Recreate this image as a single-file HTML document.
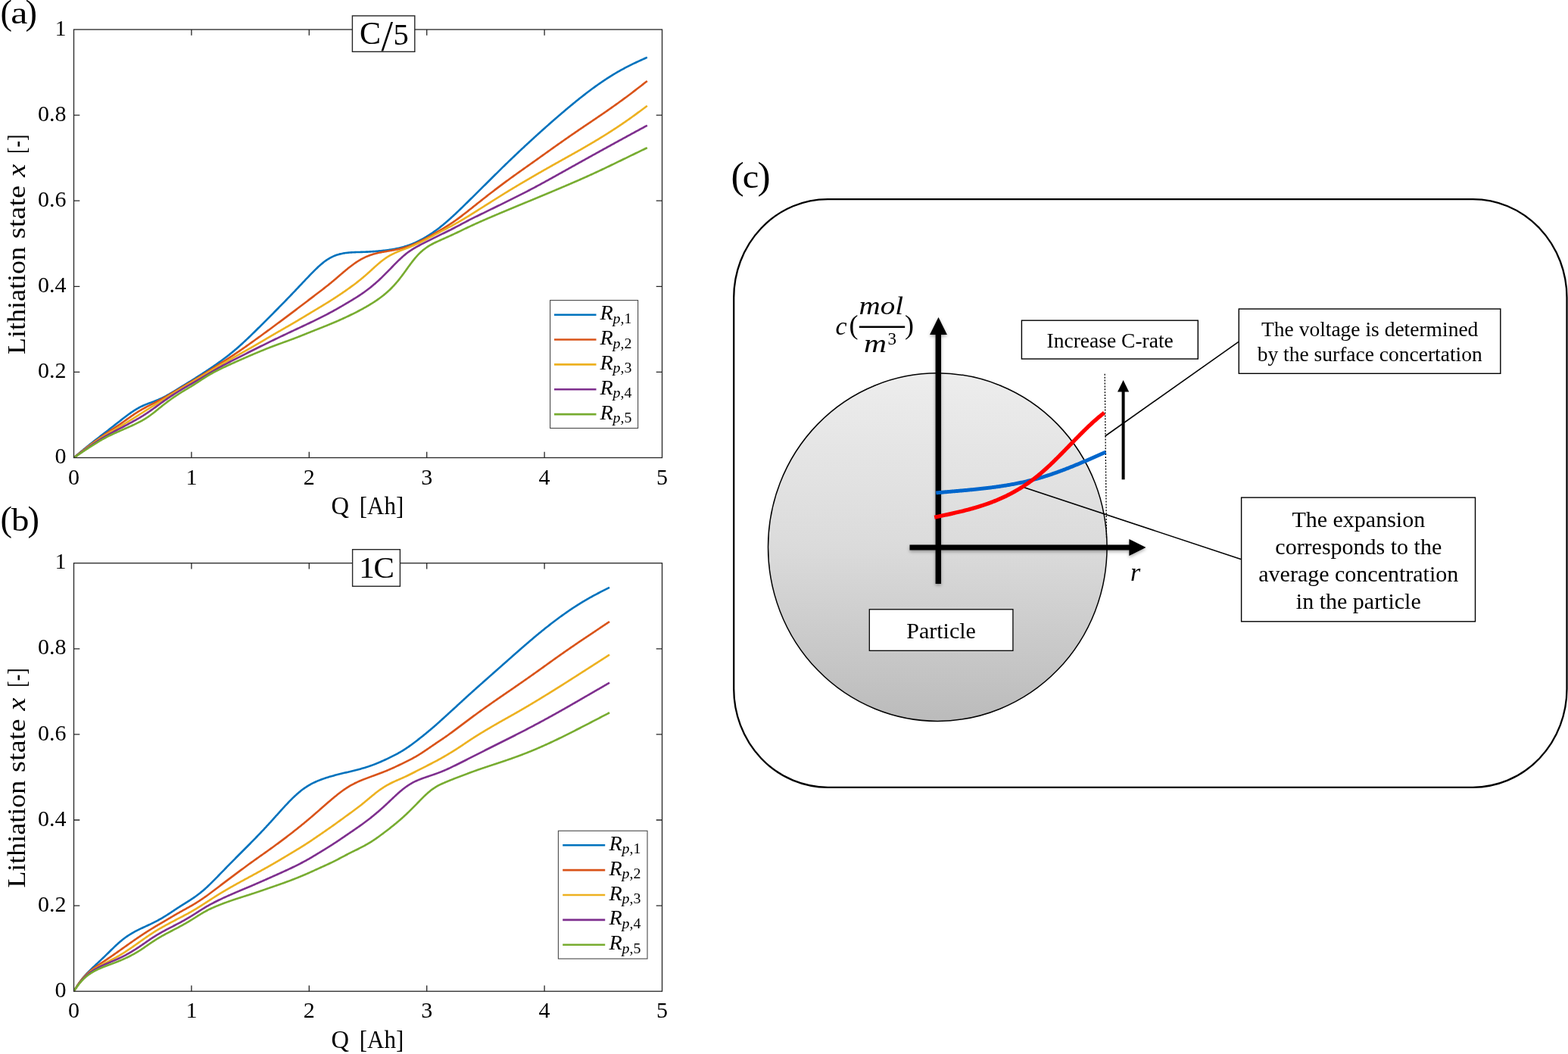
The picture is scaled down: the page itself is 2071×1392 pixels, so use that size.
<!DOCTYPE html><html><head><meta charset="utf-8"><title>Figure</title><style>html,body{margin:0;padding:0;background:#fff}svg{display:block}</style></head><body>
<svg width="2071" height="1392" viewBox="0 0 2071 1392">
<defs><linearGradient id="pg" x1="0" y1="0" x2="0" y2="1"><stop offset="0" stop-color="#ededed"/><stop offset="0.5" stop-color="#dbdbdb"/><stop offset="1" stop-color="#bbbbbb"/></linearGradient><filter id="sh" x="-50%" y="-50%" width="200%" height="200%"><feDropShadow dx="0" dy="2" stdDeviation="2.2" flood-color="#000" flood-opacity="0.35"/></filter></defs>
<rect width="2071" height="1392" fill="#fff"/>
<g>
<clipPath id="clip0"><rect x="97.5" y="39.0" width="777.0" height="565.5"/></clipPath>
<g clip-path="url(#clip0)" fill="none" stroke-width="2.6" stroke-linejoin="round" stroke-linecap="butt">
<path d="M97.5,604.50 L98.5,603.66 L99.5,602.81 L100.5,601.97 L101.5,601.13 L102.5,600.29 L103.5,599.45 L104.5,598.61 L105.5,597.77 L106.5,596.94 L107.5,596.10 L108.5,595.27 L109.5,594.44 L110.5,593.61 L111.5,592.79 L112.5,591.96 L113.5,591.14 L114.5,590.32 L115.5,589.51 L116.5,588.70 L117.5,587.89 L118.5,587.08 L119.5,586.28 L120.5,585.48 L121.5,584.69 L122.5,583.90 L123.5,583.11 L124.5,582.33 L125.5,581.55 L126.5,580.77 L127.5,580.00 L128.5,579.23 L129.5,578.46 L130.5,577.69 L131.5,576.92 L132.5,576.15 L133.5,575.38 L134.5,574.62 L135.5,573.85 L136.5,573.08 L137.5,572.31 L138.5,571.54 L139.5,570.77 L140.5,570.00 L141.5,569.22 L142.5,568.44 L143.5,567.66 L144.5,566.88 L145.5,566.10 L146.5,565.32 L147.5,564.53 L148.5,563.75 L149.5,562.96 L150.5,562.18 L151.5,561.39 L152.5,560.61 L153.5,559.82 L154.5,559.04 L155.5,558.25 L156.5,557.47 L157.5,556.69 L158.5,555.91 L159.5,555.13 L160.5,554.35 L161.5,553.58 L162.5,552.81 L163.5,552.04 L164.5,551.27 L165.5,550.51 L166.5,549.76 L167.5,549.01 L168.5,548.27 L169.5,547.53 L170.5,546.80 L171.5,546.09 L172.5,545.38 L173.5,544.68 L174.5,544.00 L175.5,543.32 L176.5,542.67 L177.5,542.02 L178.5,541.40 L179.5,540.79 L180.5,540.19 L181.5,539.61 L182.5,539.05 L183.5,538.50 L184.5,537.97 L185.5,537.45 L186.5,536.95 L187.5,536.47 L188.5,536.00 L189.5,535.55 L190.5,535.11 L191.5,534.68 L192.5,534.27 L193.5,533.87 L194.5,533.47 L195.5,533.09 L196.5,532.71 L197.5,532.34 L198.5,531.97 L199.5,531.60 L200.5,531.23 L201.5,530.86 L202.5,530.48 L203.5,530.10 L204.5,529.71 L205.5,529.32 L206.5,528.91 L207.5,528.50 L208.5,528.08 L209.5,527.65 L210.5,527.21 L211.5,526.77 L212.5,526.31 L213.5,525.84 L214.5,525.36 L215.5,524.87 L216.5,524.37 L217.5,523.86 L218.5,523.33 L219.5,522.80 L220.5,522.25 L221.5,521.70 L222.5,521.14 L223.5,520.57 L224.5,519.99 L225.5,519.41 L226.5,518.81 L227.5,518.22 L228.5,517.62 L229.5,517.01 L230.5,516.40 L231.5,515.79 L232.5,515.17 L233.5,514.55 L234.5,513.93 L235.5,513.31 L236.5,512.69 L237.5,512.07 L238.5,511.45 L239.5,510.83 L240.5,510.22 L241.5,509.60 L242.5,508.99 L243.5,508.38 L244.5,507.77 L245.5,507.16 L246.5,506.55 L247.5,505.94 L248.5,505.33 L249.5,504.71 L250.5,504.10 L251.5,503.48 L252.5,502.86 L253.5,502.24 L254.5,501.62 L255.5,500.99 L256.5,500.36 L257.5,499.73 L258.5,499.10 L259.5,498.47 L260.5,497.83 L261.5,497.20 L262.5,496.56 L263.5,495.92 L264.5,495.28 L265.5,494.64 L266.5,493.99 L267.5,493.34 L268.5,492.70 L269.5,492.05 L270.5,491.39 L271.5,490.74 L272.5,490.08 L273.5,489.42 L274.5,488.75 L275.5,488.09 L276.5,487.42 L277.5,486.75 L278.5,486.07 L279.5,485.40 L280.5,484.71 L281.5,484.03 L282.5,483.34 L283.5,482.65 L284.5,481.95 L285.5,481.25 L286.5,480.55 L287.5,479.84 L288.5,479.13 L289.5,478.42 L290.5,477.70 L291.5,476.97 L292.5,476.25 L293.5,475.51 L294.5,474.77 L295.5,474.03 L296.5,473.28 L297.5,472.53 L298.5,471.77 L299.5,471.00 L300.5,470.23 L301.5,469.45 L302.5,468.66 L303.5,467.87 L304.5,467.07 L305.5,466.27 L306.5,465.45 L307.5,464.63 L308.5,463.80 L309.5,462.96 L310.5,462.12 L311.5,461.27 L312.5,460.40 L313.5,459.54 L314.5,458.66 L315.5,457.78 L316.5,456.89 L317.5,455.99 L318.5,455.08 L319.5,454.17 L320.5,453.26 L321.5,452.34 L322.5,451.41 L323.5,450.48 L324.5,449.54 L325.5,448.60 L326.5,447.65 L327.5,446.70 L328.5,445.74 L329.5,444.78 L330.5,443.82 L331.5,442.85 L332.5,441.88 L333.5,440.91 L334.5,439.93 L335.5,438.95 L336.5,437.97 L337.5,436.99 L338.5,436.00 L339.5,435.02 L340.5,434.03 L341.5,433.04 L342.5,432.05 L343.5,431.06 L344.5,430.06 L345.5,429.07 L346.5,428.08 L347.5,427.08 L348.5,426.08 L349.5,425.08 L350.5,424.09 L351.5,423.09 L352.5,422.08 L353.5,421.08 L354.5,420.08 L355.5,419.08 L356.5,418.07 L357.5,417.07 L358.5,416.06 L359.5,415.05 L360.5,414.05 L361.5,413.04 L362.5,412.03 L363.5,411.02 L364.5,410.01 L365.5,409.00 L366.5,407.98 L367.5,406.97 L368.5,405.96 L369.5,404.94 L370.5,403.92 L371.5,402.90 L372.5,401.88 L373.5,400.86 L374.5,399.84 L375.5,398.82 L376.5,397.79 L377.5,396.76 L378.5,395.73 L379.5,394.70 L380.5,393.67 L381.5,392.64 L382.5,391.60 L383.5,390.56 L384.5,389.52 L385.5,388.48 L386.5,387.44 L387.5,386.39 L388.5,385.34 L389.5,384.29 L390.5,383.24 L391.5,382.19 L392.5,381.13 L393.5,380.07 L394.5,379.01 L395.5,377.95 L396.5,376.89 L397.5,375.83 L398.5,374.77 L399.5,373.71 L400.5,372.65 L401.5,371.59 L402.5,370.54 L403.5,369.48 L404.5,368.43 L405.5,367.38 L406.5,366.33 L407.5,365.29 L408.5,364.25 L409.5,363.21 L410.5,362.18 L411.5,361.15 L412.5,360.13 L413.5,359.12 L414.5,358.11 L415.5,357.11 L416.5,356.13 L417.5,355.15 L418.5,354.19 L419.5,353.25 L420.5,352.32 L421.5,351.40 L422.5,350.51 L423.5,349.63 L424.5,348.77 L425.5,347.94 L426.5,347.12 L427.5,346.34 L428.5,345.57 L429.5,344.83 L430.5,344.12 L431.5,343.43 L432.5,342.77 L433.5,342.13 L434.5,341.52 L435.5,340.94 L436.5,340.38 L437.5,339.85 L438.5,339.34 L439.5,338.86 L440.5,338.41 L441.5,337.98 L442.5,337.58 L443.5,337.20 L444.5,336.84 L445.5,336.51 L446.5,336.20 L447.5,335.90 L448.5,335.63 L449.5,335.38 L450.5,335.15 L451.5,334.93 L452.5,334.73 L453.5,334.55 L454.5,334.38 L455.5,334.22 L456.5,334.08 L457.5,333.95 L458.5,333.84 L459.5,333.73 L460.5,333.63 L461.5,333.54 L462.5,333.47 L463.5,333.39 L464.5,333.33 L465.5,333.27 L466.5,333.22 L467.5,333.18 L468.5,333.14 L469.5,333.10 L470.5,333.07 L471.5,333.04 L472.5,333.01 L473.5,332.98 L474.5,332.96 L475.5,332.93 L476.5,332.90 L477.5,332.88 L478.5,332.85 L479.5,332.82 L480.5,332.79 L481.5,332.75 L482.5,332.71 L483.5,332.67 L484.5,332.62 L485.5,332.58 L486.5,332.52 L487.5,332.47 L488.5,332.41 L489.5,332.35 L490.5,332.29 L491.5,332.22 L492.5,332.15 L493.5,332.08 L494.5,332.01 L495.5,331.93 L496.5,331.85 L497.5,331.77 L498.5,331.68 L499.5,331.60 L500.5,331.51 L501.5,331.41 L502.5,331.32 L503.5,331.22 L504.5,331.12 L505.5,331.01 L506.5,330.91 L507.5,330.79 L508.5,330.68 L509.5,330.56 L510.5,330.43 L511.5,330.30 L512.5,330.17 L513.5,330.03 L514.5,329.89 L515.5,329.74 L516.5,329.58 L517.5,329.42 L518.5,329.26 L519.5,329.08 L520.5,328.91 L521.5,328.72 L522.5,328.53 L523.5,328.33 L524.5,328.13 L525.5,327.91 L526.5,327.69 L527.5,327.46 L528.5,327.23 L529.5,326.98 L530.5,326.73 L531.5,326.46 L532.5,326.19 L533.5,325.91 L534.5,325.61 L535.5,325.31 L536.5,325.00 L537.5,324.68 L538.5,324.34 L539.5,324.00 L540.5,323.64 L541.5,323.27 L542.5,322.89 L543.5,322.50 L544.5,322.10 L545.5,321.68 L546.5,321.26 L547.5,320.82 L548.5,320.38 L549.5,319.92 L550.5,319.46 L551.5,318.98 L552.5,318.49 L553.5,318.00 L554.5,317.49 L555.5,316.97 L556.5,316.45 L557.5,315.91 L558.5,315.36 L559.5,314.80 L560.5,314.23 L561.5,313.65 L562.5,313.06 L563.5,312.46 L564.5,311.84 L565.5,311.22 L566.5,310.59 L567.5,309.94 L568.5,309.29 L569.5,308.63 L570.5,307.95 L571.5,307.27 L572.5,306.57 L573.5,305.87 L574.5,305.16 L575.5,304.43 L576.5,303.70 L577.5,302.95 L578.5,302.20 L579.5,301.43 L580.5,300.66 L581.5,299.88 L582.5,299.08 L583.5,298.28 L584.5,297.46 L585.5,296.64 L586.5,295.81 L587.5,294.97 L588.5,294.12 L589.5,293.26 L590.5,292.39 L591.5,291.52 L592.5,290.64 L593.5,289.75 L594.5,288.86 L595.5,287.96 L596.5,287.05 L597.5,286.14 L598.5,285.22 L599.5,284.29 L600.5,283.36 L601.5,282.43 L602.5,281.49 L603.5,280.54 L604.5,279.59 L605.5,278.64 L606.5,277.68 L607.5,276.72 L608.5,275.75 L609.5,274.79 L610.5,273.82 L611.5,272.84 L612.5,271.87 L613.5,270.89 L614.5,269.91 L615.5,268.93 L616.5,267.95 L617.5,266.97 L618.5,265.98 L619.5,265.00 L620.5,264.01 L621.5,263.03 L622.5,262.04 L623.5,261.06 L624.5,260.07 L625.5,259.08 L626.5,258.09 L627.5,257.11 L628.5,256.12 L629.5,255.13 L630.5,254.14 L631.5,253.15 L632.5,252.16 L633.5,251.16 L634.5,250.17 L635.5,249.18 L636.5,248.19 L637.5,247.19 L638.5,246.20 L639.5,245.20 L640.5,244.21 L641.5,243.21 L642.5,242.22 L643.5,241.22 L644.5,240.23 L645.5,239.23 L646.5,238.23 L647.5,237.24 L648.5,236.24 L649.5,235.25 L650.5,234.26 L651.5,233.26 L652.5,232.27 L653.5,231.28 L654.5,230.29 L655.5,229.30 L656.5,228.31 L657.5,227.32 L658.5,226.33 L659.5,225.35 L660.5,224.36 L661.5,223.38 L662.5,222.40 L663.5,221.42 L664.5,220.44 L665.5,219.47 L666.5,218.49 L667.5,217.52 L668.5,216.55 L669.5,215.58 L670.5,214.61 L671.5,213.65 L672.5,212.68 L673.5,211.72 L674.5,210.76 L675.5,209.80 L676.5,208.84 L677.5,207.89 L678.5,206.94 L679.5,205.98 L680.5,205.03 L681.5,204.08 L682.5,203.14 L683.5,202.19 L684.5,201.25 L685.5,200.30 L686.5,199.36 L687.5,198.42 L688.5,197.49 L689.5,196.55 L690.5,195.62 L691.5,194.68 L692.5,193.75 L693.5,192.82 L694.5,191.89 L695.5,190.97 L696.5,190.04 L697.5,189.12 L698.5,188.20 L699.5,187.28 L700.5,186.36 L701.5,185.44 L702.5,184.52 L703.5,183.61 L704.5,182.69 L705.5,181.78 L706.5,180.87 L707.5,179.96 L708.5,179.05 L709.5,178.15 L710.5,177.24 L711.5,176.34 L712.5,175.44 L713.5,174.54 L714.5,173.64 L715.5,172.74 L716.5,171.84 L717.5,170.95 L718.5,170.05 L719.5,169.16 L720.5,168.27 L721.5,167.38 L722.5,166.50 L723.5,165.61 L724.5,164.73 L725.5,163.85 L726.5,162.96 L727.5,162.09 L728.5,161.21 L729.5,160.33 L730.5,159.46 L731.5,158.59 L732.5,157.71 L733.5,156.85 L734.5,155.98 L735.5,155.11 L736.5,154.25 L737.5,153.38 L738.5,152.52 L739.5,151.66 L740.5,150.81 L741.5,149.95 L742.5,149.10 L743.5,148.25 L744.5,147.40 L745.5,146.55 L746.5,145.70 L747.5,144.86 L748.5,144.02 L749.5,143.18 L750.5,142.34 L751.5,141.50 L752.5,140.67 L753.5,139.84 L754.5,139.01 L755.5,138.19 L756.5,137.37 L757.5,136.55 L758.5,135.73 L759.5,134.91 L760.5,134.10 L761.5,133.29 L762.5,132.49 L763.5,131.68 L764.5,130.88 L765.5,130.09 L766.5,129.29 L767.5,128.50 L768.5,127.71 L769.5,126.93 L770.5,126.15 L771.5,125.37 L772.5,124.60 L773.5,123.83 L774.5,123.06 L775.5,122.30 L776.5,121.54 L777.5,120.78 L778.5,120.03 L779.5,119.28 L780.5,118.53 L781.5,117.79 L782.5,117.05 L783.5,116.32 L784.5,115.59 L785.5,114.87 L786.5,114.14 L787.5,113.43 L788.5,112.71 L789.5,112.01 L790.5,111.30 L791.5,110.60 L792.5,109.90 L793.5,109.21 L794.5,108.53 L795.5,107.84 L796.5,107.17 L797.5,106.49 L798.5,105.82 L799.5,105.16 L800.5,104.50 L801.5,103.85 L802.5,103.20 L803.5,102.55 L804.5,101.91 L805.5,101.28 L806.5,100.65 L807.5,100.03 L808.5,99.41 L809.5,98.80 L810.5,98.19 L811.5,97.59 L812.5,96.99 L813.5,96.40 L814.5,95.81 L815.5,95.23 L816.5,94.66 L817.5,94.09 L818.5,93.52 L819.5,92.96 L820.5,92.41 L821.5,91.86 L822.5,91.32 L823.5,90.78 L824.5,90.24 L825.5,89.71 L826.5,89.19 L827.5,88.67 L828.5,88.15 L829.5,87.64 L830.5,87.13 L831.5,86.63 L832.5,86.13 L833.5,85.63 L834.5,85.14 L835.5,84.65 L836.5,84.17 L837.5,83.69 L838.5,83.21 L839.5,82.74 L840.5,82.27 L841.5,81.80 L842.5,81.34 L843.5,80.87 L844.5,80.42 L845.5,79.96 L846.5,79.50 L847.5,79.05 L848.5,78.60 L849.5,78.14 L850.5,77.69 L851.5,77.25 L852.5,76.80 L853.5,76.35 L854.5,75.90 L854.8,75.77" stroke="#0072BD"/>
<path d="M97.5,604.50 L98.5,603.70 L99.5,602.91 L100.5,602.11 L101.5,601.32 L102.5,600.53 L103.5,599.74 L104.5,598.95 L105.5,598.16 L106.5,597.37 L107.5,596.58 L108.5,595.79 L109.5,595.01 L110.5,594.23 L111.5,593.45 L112.5,592.67 L113.5,591.90 L114.5,591.13 L115.5,590.36 L116.5,589.59 L117.5,588.83 L118.5,588.07 L119.5,587.32 L120.5,586.56 L121.5,585.82 L122.5,585.07 L123.5,584.33 L124.5,583.59 L125.5,582.86 L126.5,582.13 L127.5,581.41 L128.5,580.69 L129.5,579.97 L130.5,579.26 L131.5,578.55 L132.5,577.84 L133.5,577.14 L134.5,576.44 L135.5,575.75 L136.5,575.06 L137.5,574.37 L138.5,573.69 L139.5,573.01 L140.5,572.33 L141.5,571.66 L142.5,570.99 L143.5,570.32 L144.5,569.65 L145.5,568.99 L146.5,568.32 L147.5,567.66 L148.5,567.00 L149.5,566.33 L150.5,565.67 L151.5,565.00 L152.5,564.34 L153.5,563.67 L154.5,562.99 L155.5,562.32 L156.5,561.64 L157.5,560.96 L158.5,560.27 L159.5,559.58 L160.5,558.88 L161.5,558.17 L162.5,557.46 L163.5,556.75 L164.5,556.04 L165.5,555.32 L166.5,554.61 L167.5,553.89 L168.5,553.18 L169.5,552.47 L170.5,551.76 L171.5,551.06 L172.5,550.36 L173.5,549.67 L174.5,548.98 L175.5,548.30 L176.5,547.62 L177.5,546.95 L178.5,546.29 L179.5,545.63 L180.5,544.99 L181.5,544.35 L182.5,543.72 L183.5,543.10 L184.5,542.49 L185.5,541.89 L186.5,541.30 L187.5,540.72 L188.5,540.16 L189.5,539.60 L190.5,539.05 L191.5,538.51 L192.5,537.99 L193.5,537.46 L194.5,536.95 L195.5,536.44 L196.5,535.93 L197.5,535.43 L198.5,534.92 L199.5,534.42 L200.5,533.91 L201.5,533.40 L202.5,532.89 L203.5,532.38 L204.5,531.86 L205.5,531.34 L206.5,530.82 L207.5,530.29 L208.5,529.76 L209.5,529.23 L210.5,528.69 L211.5,528.14 L212.5,527.60 L213.5,527.05 L214.5,526.49 L215.5,525.93 L216.5,525.37 L217.5,524.80 L218.5,524.24 L219.5,523.66 L220.5,523.09 L221.5,522.51 L222.5,521.93 L223.5,521.35 L224.5,520.77 L225.5,520.18 L226.5,519.60 L227.5,519.01 L228.5,518.42 L229.5,517.83 L230.5,517.23 L231.5,516.64 L232.5,516.05 L233.5,515.45 L234.5,514.86 L235.5,514.26 L236.5,513.67 L237.5,513.07 L238.5,512.48 L239.5,511.88 L240.5,511.29 L241.5,510.70 L242.5,510.11 L243.5,509.51 L244.5,508.92 L245.5,508.33 L246.5,507.74 L247.5,507.15 L248.5,506.55 L249.5,505.96 L250.5,505.37 L251.5,504.78 L252.5,504.18 L253.5,503.58 L254.5,502.99 L255.5,502.39 L256.5,501.79 L257.5,501.19 L258.5,500.59 L259.5,499.98 L260.5,499.37 L261.5,498.76 L262.5,498.15 L263.5,497.54 L264.5,496.93 L265.5,496.31 L266.5,495.69 L267.5,495.07 L268.5,494.45 L269.5,493.83 L270.5,493.20 L271.5,492.58 L272.5,491.95 L273.5,491.32 L274.5,490.69 L275.5,490.06 L276.5,489.43 L277.5,488.79 L278.5,488.16 L279.5,487.52 L280.5,486.89 L281.5,486.25 L282.5,485.61 L283.5,484.97 L284.5,484.34 L285.5,483.70 L286.5,483.06 L287.5,482.42 L288.5,481.78 L289.5,481.14 L290.5,480.49 L291.5,479.85 L292.5,479.21 L293.5,478.57 L294.5,477.93 L295.5,477.28 L296.5,476.64 L297.5,475.99 L298.5,475.35 L299.5,474.70 L300.5,474.05 L301.5,473.40 L302.5,472.74 L303.5,472.09 L304.5,471.43 L305.5,470.78 L306.5,470.12 L307.5,469.45 L308.5,468.79 L309.5,468.12 L310.5,467.45 L311.5,466.78 L312.5,466.10 L313.5,465.42 L314.5,464.74 L315.5,464.06 L316.5,463.37 L317.5,462.68 L318.5,461.99 L319.5,461.30 L320.5,460.61 L321.5,459.91 L322.5,459.21 L323.5,458.51 L324.5,457.81 L325.5,457.10 L326.5,456.40 L327.5,455.69 L328.5,454.98 L329.5,454.27 L330.5,453.56 L331.5,452.84 L332.5,452.13 L333.5,451.41 L334.5,450.70 L335.5,449.98 L336.5,449.26 L337.5,448.54 L338.5,447.81 L339.5,447.09 L340.5,446.37 L341.5,445.64 L342.5,444.92 L343.5,444.19 L344.5,443.47 L345.5,442.74 L346.5,442.01 L347.5,441.28 L348.5,440.55 L349.5,439.82 L350.5,439.09 L351.5,438.36 L352.5,437.63 L353.5,436.89 L354.5,436.16 L355.5,435.43 L356.5,434.69 L357.5,433.96 L358.5,433.22 L359.5,432.49 L360.5,431.75 L361.5,431.01 L362.5,430.28 L363.5,429.54 L364.5,428.80 L365.5,428.06 L366.5,427.32 L367.5,426.58 L368.5,425.84 L369.5,425.10 L370.5,424.36 L371.5,423.61 L372.5,422.87 L373.5,422.13 L374.5,421.38 L375.5,420.64 L376.5,419.89 L377.5,419.14 L378.5,418.39 L379.5,417.65 L380.5,416.90 L381.5,416.15 L382.5,415.40 L383.5,414.64 L384.5,413.89 L385.5,413.14 L386.5,412.38 L387.5,411.63 L388.5,410.87 L389.5,410.11 L390.5,409.35 L391.5,408.59 L392.5,407.83 L393.5,407.07 L394.5,406.31 L395.5,405.55 L396.5,404.79 L397.5,404.02 L398.5,403.26 L399.5,402.50 L400.5,401.73 L401.5,400.97 L402.5,400.21 L403.5,399.44 L404.5,398.68 L405.5,397.92 L406.5,397.16 L407.5,396.40 L408.5,395.64 L409.5,394.88 L410.5,394.12 L411.5,393.36 L412.5,392.60 L413.5,391.84 L414.5,391.09 L415.5,390.33 L416.5,389.57 L417.5,388.81 L418.5,388.05 L419.5,387.29 L420.5,386.53 L421.5,385.77 L422.5,385.00 L423.5,384.24 L424.5,383.47 L425.5,382.70 L426.5,381.92 L427.5,381.15 L428.5,380.37 L429.5,379.58 L430.5,378.80 L431.5,378.00 L432.5,377.21 L433.5,376.41 L434.5,375.61 L435.5,374.80 L436.5,373.98 L437.5,373.17 L438.5,372.34 L439.5,371.51 L440.5,370.67 L441.5,369.83 L442.5,368.99 L443.5,368.14 L444.5,367.28 L445.5,366.43 L446.5,365.57 L447.5,364.71 L448.5,363.85 L449.5,362.99 L450.5,362.13 L451.5,361.28 L452.5,360.42 L453.5,359.57 L454.5,358.73 L455.5,357.89 L456.5,357.06 L457.5,356.23 L458.5,355.41 L459.5,354.60 L460.5,353.80 L461.5,353.01 L462.5,352.23 L463.5,351.46 L464.5,350.70 L465.5,349.95 L466.5,349.22 L467.5,348.50 L468.5,347.79 L469.5,347.10 L470.5,346.43 L471.5,345.77 L472.5,345.12 L473.5,344.50 L474.5,343.89 L475.5,343.29 L476.5,342.72 L477.5,342.16 L478.5,341.62 L479.5,341.09 L480.5,340.59 L481.5,340.10 L482.5,339.63 L483.5,339.18 L484.5,338.75 L485.5,338.33 L486.5,337.93 L487.5,337.55 L488.5,337.18 L489.5,336.83 L490.5,336.49 L491.5,336.17 L492.5,335.86 L493.5,335.56 L494.5,335.28 L495.5,335.01 L496.5,334.75 L497.5,334.50 L498.5,334.26 L499.5,334.03 L500.5,333.81 L501.5,333.60 L502.5,333.39 L503.5,333.19 L504.5,333.00 L505.5,332.81 L506.5,332.63 L507.5,332.45 L508.5,332.27 L509.5,332.10 L510.5,331.93 L511.5,331.76 L512.5,331.59 L513.5,331.42 L514.5,331.25 L515.5,331.08 L516.5,330.91 L517.5,330.73 L518.5,330.55 L519.5,330.37 L520.5,330.19 L521.5,330.00 L522.5,329.80 L523.5,329.60 L524.5,329.39 L525.5,329.18 L526.5,328.96 L527.5,328.73 L528.5,328.50 L529.5,328.26 L530.5,328.01 L531.5,327.75 L532.5,327.48 L533.5,327.20 L534.5,326.92 L535.5,326.62 L536.5,326.32 L537.5,326.00 L538.5,325.67 L539.5,325.33 L540.5,324.98 L541.5,324.62 L542.5,324.25 L543.5,323.86 L544.5,323.47 L545.5,323.06 L546.5,322.65 L547.5,322.22 L548.5,321.78 L549.5,321.34 L550.5,320.89 L551.5,320.42 L552.5,319.95 L553.5,319.48 L554.5,318.99 L555.5,318.50 L556.5,318.00 L557.5,317.49 L558.5,316.98 L559.5,316.46 L560.5,315.94 L561.5,315.41 L562.5,314.87 L563.5,314.34 L564.5,313.79 L565.5,313.25 L566.5,312.69 L567.5,312.14 L568.5,311.58 L569.5,311.02 L570.5,310.45 L571.5,309.88 L572.5,309.31 L573.5,308.73 L574.5,308.15 L575.5,307.57 L576.5,306.99 L577.5,306.40 L578.5,305.82 L579.5,305.23 L580.5,304.64 L581.5,304.04 L582.5,303.45 L583.5,302.85 L584.5,302.25 L585.5,301.64 L586.5,301.04 L587.5,300.43 L588.5,299.81 L589.5,299.19 L590.5,298.56 L591.5,297.93 L592.5,297.30 L593.5,296.65 L594.5,296.00 L595.5,295.35 L596.5,294.68 L597.5,294.01 L598.5,293.34 L599.5,292.65 L600.5,291.95 L601.5,291.25 L602.5,290.54 L603.5,289.82 L604.5,289.10 L605.5,288.36 L606.5,287.62 L607.5,286.88 L608.5,286.13 L609.5,285.37 L610.5,284.61 L611.5,283.84 L612.5,283.07 L613.5,282.29 L614.5,281.52 L615.5,280.74 L616.5,279.95 L617.5,279.16 L618.5,278.38 L619.5,277.59 L620.5,276.79 L621.5,276.00 L622.5,275.21 L623.5,274.41 L624.5,273.62 L625.5,272.82 L626.5,272.02 L627.5,271.23 L628.5,270.43 L629.5,269.64 L630.5,268.84 L631.5,268.05 L632.5,267.26 L633.5,266.46 L634.5,265.67 L635.5,264.88 L636.5,264.10 L637.5,263.31 L638.5,262.52 L639.5,261.74 L640.5,260.95 L641.5,260.17 L642.5,259.39 L643.5,258.61 L644.5,257.83 L645.5,257.06 L646.5,256.28 L647.5,255.51 L648.5,254.74 L649.5,253.97 L650.5,253.20 L651.5,252.43 L652.5,251.66 L653.5,250.90 L654.5,250.14 L655.5,249.37 L656.5,248.61 L657.5,247.86 L658.5,247.10 L659.5,246.35 L660.5,245.60 L661.5,244.85 L662.5,244.10 L663.5,243.35 L664.5,242.61 L665.5,241.87 L666.5,241.13 L667.5,240.39 L668.5,239.65 L669.5,238.92 L670.5,238.19 L671.5,237.46 L672.5,236.73 L673.5,236.00 L674.5,235.28 L675.5,234.55 L676.5,233.83 L677.5,233.11 L678.5,232.39 L679.5,231.67 L680.5,230.95 L681.5,230.24 L682.5,229.52 L683.5,228.81 L684.5,228.09 L685.5,227.38 L686.5,226.67 L687.5,225.96 L688.5,225.25 L689.5,224.54 L690.5,223.83 L691.5,223.12 L692.5,222.41 L693.5,221.70 L694.5,220.99 L695.5,220.29 L696.5,219.58 L697.5,218.87 L698.5,218.16 L699.5,217.45 L700.5,216.75 L701.5,216.04 L702.5,215.33 L703.5,214.62 L704.5,213.91 L705.5,213.20 L706.5,212.49 L707.5,211.78 L708.5,211.07 L709.5,210.36 L710.5,209.65 L711.5,208.93 L712.5,208.22 L713.5,207.51 L714.5,206.79 L715.5,206.08 L716.5,205.37 L717.5,204.65 L718.5,203.94 L719.5,203.23 L720.5,202.51 L721.5,201.80 L722.5,201.08 L723.5,200.37 L724.5,199.66 L725.5,198.94 L726.5,198.23 L727.5,197.52 L728.5,196.81 L729.5,196.09 L730.5,195.38 L731.5,194.67 L732.5,193.96 L733.5,193.25 L734.5,192.54 L735.5,191.84 L736.5,191.13 L737.5,190.42 L738.5,189.72 L739.5,189.01 L740.5,188.31 L741.5,187.60 L742.5,186.90 L743.5,186.20 L744.5,185.50 L745.5,184.80 L746.5,184.10 L747.5,183.40 L748.5,182.71 L749.5,182.01 L750.5,181.32 L751.5,180.62 L752.5,179.93 L753.5,179.24 L754.5,178.55 L755.5,177.86 L756.5,177.17 L757.5,176.48 L758.5,175.80 L759.5,175.11 L760.5,174.43 L761.5,173.74 L762.5,173.06 L763.5,172.38 L764.5,171.69 L765.5,171.01 L766.5,170.33 L767.5,169.66 L768.5,168.98 L769.5,168.30 L770.5,167.62 L771.5,166.95 L772.5,166.27 L773.5,165.60 L774.5,164.92 L775.5,164.25 L776.5,163.57 L777.5,162.90 L778.5,162.23 L779.5,161.55 L780.5,160.88 L781.5,160.20 L782.5,159.53 L783.5,158.85 L784.5,158.18 L785.5,157.50 L786.5,156.82 L787.5,156.15 L788.5,155.47 L789.5,154.79 L790.5,154.11 L791.5,153.43 L792.5,152.75 L793.5,152.07 L794.5,151.39 L795.5,150.70 L796.5,150.02 L797.5,149.33 L798.5,148.64 L799.5,147.95 L800.5,147.26 L801.5,146.57 L802.5,145.88 L803.5,145.18 L804.5,144.49 L805.5,143.79 L806.5,143.09 L807.5,142.39 L808.5,141.68 L809.5,140.98 L810.5,140.27 L811.5,139.56 L812.5,138.85 L813.5,138.14 L814.5,137.42 L815.5,136.71 L816.5,135.99 L817.5,135.26 L818.5,134.54 L819.5,133.81 L820.5,133.09 L821.5,132.36 L822.5,131.62 L823.5,130.89 L824.5,130.15 L825.5,129.41 L826.5,128.67 L827.5,127.93 L828.5,127.19 L829.5,126.44 L830.5,125.69 L831.5,124.94 L832.5,124.19 L833.5,123.43 L834.5,122.68 L835.5,121.92 L836.5,121.16 L837.5,120.39 L838.5,119.63 L839.5,118.86 L840.5,118.09 L841.5,117.32 L842.5,116.55 L843.5,115.78 L844.5,115.01 L845.5,114.23 L846.5,113.45 L847.5,112.68 L848.5,111.90 L849.5,111.12 L850.5,110.34 L851.5,109.56 L852.5,108.78 L853.5,108.00 L854.5,107.22 L854.8,106.98" stroke="#D95319"/>
<path d="M97.5,604.50 L98.5,603.74 L99.5,602.99 L100.5,602.23 L101.5,601.48 L102.5,600.72 L103.5,599.97 L104.5,599.22 L105.5,598.46 L106.5,597.71 L107.5,596.96 L108.5,596.21 L109.5,595.47 L110.5,594.72 L111.5,593.98 L112.5,593.24 L113.5,592.50 L114.5,591.76 L115.5,591.02 L116.5,590.29 L117.5,589.56 L118.5,588.83 L119.5,588.11 L120.5,587.38 L121.5,586.66 L122.5,585.95 L123.5,585.24 L124.5,584.53 L125.5,583.82 L126.5,583.12 L127.5,582.42 L128.5,581.73 L129.5,581.04 L130.5,580.36 L131.5,579.68 L132.5,579.01 L133.5,578.34 L134.5,577.68 L135.5,577.03 L136.5,576.38 L137.5,575.74 L138.5,575.10 L139.5,574.47 L140.5,573.85 L141.5,573.23 L142.5,572.63 L143.5,572.02 L144.5,571.43 L145.5,570.83 L146.5,570.24 L147.5,569.66 L148.5,569.08 L149.5,568.50 L150.5,567.92 L151.5,567.34 L152.5,566.76 L153.5,566.19 L154.5,565.61 L155.5,565.04 L156.5,564.46 L157.5,563.88 L158.5,563.29 L159.5,562.71 L160.5,562.12 L161.5,561.52 L162.5,560.93 L163.5,560.33 L164.5,559.72 L165.5,559.12 L166.5,558.51 L167.5,557.90 L168.5,557.29 L169.5,556.67 L170.5,556.06 L171.5,555.44 L172.5,554.82 L173.5,554.20 L174.5,553.58 L175.5,552.95 L176.5,552.33 L177.5,551.70 L178.5,551.07 L179.5,550.44 L180.5,549.81 L181.5,549.18 L182.5,548.55 L183.5,547.91 L184.5,547.27 L185.5,546.64 L186.5,546.00 L187.5,545.37 L188.5,544.73 L189.5,544.10 L190.5,543.46 L191.5,542.83 L192.5,542.20 L193.5,541.57 L194.5,540.94 L195.5,540.31 L196.5,539.68 L197.5,539.06 L198.5,538.43 L199.5,537.81 L200.5,537.19 L201.5,536.57 L202.5,535.95 L203.5,535.33 L204.5,534.71 L205.5,534.10 L206.5,533.48 L207.5,532.86 L208.5,532.24 L209.5,531.62 L210.5,531.01 L211.5,530.38 L212.5,529.76 L213.5,529.14 L214.5,528.52 L215.5,527.90 L216.5,527.27 L217.5,526.65 L218.5,526.03 L219.5,525.40 L220.5,524.78 L221.5,524.16 L222.5,523.53 L223.5,522.91 L224.5,522.29 L225.5,521.67 L226.5,521.05 L227.5,520.43 L228.5,519.81 L229.5,519.19 L230.5,518.57 L231.5,517.95 L232.5,517.34 L233.5,516.73 L234.5,516.11 L235.5,515.50 L236.5,514.89 L237.5,514.29 L238.5,513.68 L239.5,513.08 L240.5,512.47 L241.5,511.88 L242.5,511.28 L243.5,510.68 L244.5,510.09 L245.5,509.49 L246.5,508.90 L247.5,508.31 L248.5,507.72 L249.5,507.12 L250.5,506.53 L251.5,505.94 L252.5,505.35 L253.5,504.76 L254.5,504.17 L255.5,503.58 L256.5,502.98 L257.5,502.39 L258.5,501.79 L259.5,501.19 L260.5,500.60 L261.5,499.99 L262.5,499.39 L263.5,498.79 L264.5,498.18 L265.5,497.58 L266.5,496.97 L267.5,496.36 L268.5,495.75 L269.5,495.14 L270.5,494.53 L271.5,493.92 L272.5,493.31 L273.5,492.70 L274.5,492.09 L275.5,491.48 L276.5,490.87 L277.5,490.26 L278.5,489.65 L279.5,489.05 L280.5,488.44 L281.5,487.83 L282.5,487.23 L283.5,486.63 L284.5,486.03 L285.5,485.43 L286.5,484.83 L287.5,484.24 L288.5,483.65 L289.5,483.05 L290.5,482.47 L291.5,481.88 L292.5,481.30 L293.5,480.72 L294.5,480.14 L295.5,479.56 L296.5,478.99 L297.5,478.42 L298.5,477.85 L299.5,477.28 L300.5,476.71 L301.5,476.14 L302.5,475.58 L303.5,475.01 L304.5,474.45 L305.5,473.89 L306.5,473.33 L307.5,472.77 L308.5,472.21 L309.5,471.65 L310.5,471.09 L311.5,470.53 L312.5,469.97 L313.5,469.41 L314.5,468.85 L315.5,468.29 L316.5,467.73 L317.5,467.17 L318.5,466.61 L319.5,466.05 L320.5,465.48 L321.5,464.92 L322.5,464.36 L323.5,463.80 L324.5,463.23 L325.5,462.67 L326.5,462.10 L327.5,461.54 L328.5,460.97 L329.5,460.40 L330.5,459.83 L331.5,459.26 L332.5,458.69 L333.5,458.12 L334.5,457.54 L335.5,456.97 L336.5,456.39 L337.5,455.81 L338.5,455.23 L339.5,454.65 L340.5,454.07 L341.5,453.48 L342.5,452.90 L343.5,452.31 L344.5,451.72 L345.5,451.13 L346.5,450.54 L347.5,449.95 L348.5,449.36 L349.5,448.77 L350.5,448.17 L351.5,447.58 L352.5,446.99 L353.5,446.40 L354.5,445.81 L355.5,445.22 L356.5,444.63 L357.5,444.04 L358.5,443.45 L359.5,442.87 L360.5,442.28 L361.5,441.70 L362.5,441.12 L363.5,440.54 L364.5,439.96 L365.5,439.38 L366.5,438.81 L367.5,438.23 L368.5,437.65 L369.5,437.08 L370.5,436.51 L371.5,435.93 L372.5,435.36 L373.5,434.79 L374.5,434.21 L375.5,433.64 L376.5,433.07 L377.5,432.49 L378.5,431.92 L379.5,431.35 L380.5,430.77 L381.5,430.19 L382.5,429.62 L383.5,429.04 L384.5,428.46 L385.5,427.88 L386.5,427.30 L387.5,426.71 L388.5,426.13 L389.5,425.54 L390.5,424.95 L391.5,424.36 L392.5,423.77 L393.5,423.18 L394.5,422.58 L395.5,421.99 L396.5,421.39 L397.5,420.79 L398.5,420.19 L399.5,419.59 L400.5,418.99 L401.5,418.38 L402.5,417.78 L403.5,417.18 L404.5,416.57 L405.5,415.97 L406.5,415.37 L407.5,414.77 L408.5,414.16 L409.5,413.56 L410.5,412.96 L411.5,412.36 L412.5,411.76 L413.5,411.16 L414.5,410.56 L415.5,409.96 L416.5,409.36 L417.5,408.76 L418.5,408.16 L419.5,407.56 L420.5,406.96 L421.5,406.36 L422.5,405.76 L423.5,405.15 L424.5,404.55 L425.5,403.94 L426.5,403.33 L427.5,402.72 L428.5,402.11 L429.5,401.50 L430.5,400.89 L431.5,400.27 L432.5,399.65 L433.5,399.03 L434.5,398.40 L435.5,397.78 L436.5,397.15 L437.5,396.52 L438.5,395.88 L439.5,395.24 L440.5,394.60 L441.5,393.96 L442.5,393.31 L443.5,392.65 L444.5,392.00 L445.5,391.34 L446.5,390.68 L447.5,390.01 L448.5,389.34 L449.5,388.67 L450.5,387.99 L451.5,387.31 L452.5,386.63 L453.5,385.94 L454.5,385.25 L455.5,384.56 L456.5,383.86 L457.5,383.16 L458.5,382.46 L459.5,381.75 L460.5,381.04 L461.5,380.32 L462.5,379.60 L463.5,378.88 L464.5,378.15 L465.5,377.42 L466.5,376.68 L467.5,375.93 L468.5,375.18 L469.5,374.43 L470.5,373.66 L471.5,372.89 L472.5,372.12 L473.5,371.33 L474.5,370.54 L475.5,369.74 L476.5,368.93 L477.5,368.11 L478.5,367.28 L479.5,366.44 L480.5,365.59 L481.5,364.73 L482.5,363.87 L483.5,362.99 L484.5,362.11 L485.5,361.22 L486.5,360.32 L487.5,359.42 L488.5,358.52 L489.5,357.61 L490.5,356.70 L491.5,355.79 L492.5,354.87 L493.5,353.96 L494.5,353.05 L495.5,352.15 L496.5,351.26 L497.5,350.37 L498.5,349.49 L499.5,348.62 L500.5,347.77 L501.5,346.93 L502.5,346.11 L503.5,345.30 L504.5,344.51 L505.5,343.74 L506.5,342.98 L507.5,342.25 L508.5,341.53 L509.5,340.84 L510.5,340.17 L511.5,339.52 L512.5,338.89 L513.5,338.29 L514.5,337.70 L515.5,337.13 L516.5,336.58 L517.5,336.05 L518.5,335.54 L519.5,335.04 L520.5,334.56 L521.5,334.10 L522.5,333.64 L523.5,333.21 L524.5,332.78 L525.5,332.36 L526.5,331.95 L527.5,331.55 L528.5,331.16 L529.5,330.77 L530.5,330.39 L531.5,330.01 L532.5,329.64 L533.5,329.26 L534.5,328.89 L535.5,328.51 L536.5,328.14 L537.5,327.76 L538.5,327.37 L539.5,326.98 L540.5,326.59 L541.5,326.18 L542.5,325.77 L543.5,325.35 L544.5,324.92 L545.5,324.49 L546.5,324.05 L547.5,323.60 L548.5,323.15 L549.5,322.69 L550.5,322.23 L551.5,321.76 L552.5,321.28 L553.5,320.80 L554.5,320.32 L555.5,319.83 L556.5,319.33 L557.5,318.83 L558.5,318.33 L559.5,317.82 L560.5,317.31 L561.5,316.80 L562.5,316.28 L563.5,315.76 L564.5,315.24 L565.5,314.71 L566.5,314.18 L567.5,313.65 L568.5,313.12 L569.5,312.59 L570.5,312.06 L571.5,311.52 L572.5,310.99 L573.5,310.45 L574.5,309.92 L575.5,309.38 L576.5,308.85 L577.5,308.32 L578.5,307.79 L579.5,307.26 L580.5,306.73 L581.5,306.20 L582.5,305.67 L583.5,305.15 L584.5,304.63 L585.5,304.10 L586.5,303.58 L587.5,303.06 L588.5,302.53 L589.5,302.01 L590.5,301.48 L591.5,300.96 L592.5,300.43 L593.5,299.90 L594.5,299.37 L595.5,298.83 L596.5,298.29 L597.5,297.75 L598.5,297.21 L599.5,296.66 L600.5,296.11 L601.5,295.55 L602.5,294.99 L603.5,294.43 L604.5,293.86 L605.5,293.29 L606.5,292.71 L607.5,292.13 L608.5,291.55 L609.5,290.96 L610.5,290.37 L611.5,289.78 L612.5,289.18 L613.5,288.58 L614.5,287.98 L615.5,287.37 L616.5,286.76 L617.5,286.15 L618.5,285.54 L619.5,284.92 L620.5,284.30 L621.5,283.68 L622.5,283.06 L623.5,282.44 L624.5,281.82 L625.5,281.19 L626.5,280.56 L627.5,279.93 L628.5,279.31 L629.5,278.68 L630.5,278.05 L631.5,277.42 L632.5,276.78 L633.5,276.15 L634.5,275.52 L635.5,274.89 L636.5,274.25 L637.5,273.62 L638.5,272.99 L639.5,272.35 L640.5,271.72 L641.5,271.09 L642.5,270.45 L643.5,269.82 L644.5,269.19 L645.5,268.55 L646.5,267.92 L647.5,267.29 L648.5,266.65 L649.5,266.02 L650.5,265.39 L651.5,264.76 L652.5,264.13 L653.5,263.50 L654.5,262.87 L655.5,262.24 L656.5,261.61 L657.5,260.98 L658.5,260.36 L659.5,259.73 L660.5,259.11 L661.5,258.48 L662.5,257.86 L663.5,257.24 L664.5,256.62 L665.5,256.01 L666.5,255.39 L667.5,254.77 L668.5,254.16 L669.5,253.55 L670.5,252.94 L671.5,252.33 L672.5,251.72 L673.5,251.11 L674.5,250.50 L675.5,249.90 L676.5,249.29 L677.5,248.69 L678.5,248.09 L679.5,247.49 L680.5,246.89 L681.5,246.29 L682.5,245.69 L683.5,245.10 L684.5,244.50 L685.5,243.90 L686.5,243.31 L687.5,242.72 L688.5,242.13 L689.5,241.54 L690.5,240.95 L691.5,240.36 L692.5,239.77 L693.5,239.18 L694.5,238.60 L695.5,238.01 L696.5,237.43 L697.5,236.84 L698.5,236.26 L699.5,235.68 L700.5,235.10 L701.5,234.51 L702.5,233.93 L703.5,233.35 L704.5,232.78 L705.5,232.20 L706.5,231.62 L707.5,231.04 L708.5,230.47 L709.5,229.89 L710.5,229.32 L711.5,228.74 L712.5,228.17 L713.5,227.60 L714.5,227.02 L715.5,226.45 L716.5,225.88 L717.5,225.31 L718.5,224.74 L719.5,224.17 L720.5,223.60 L721.5,223.03 L722.5,222.46 L723.5,221.90 L724.5,221.33 L725.5,220.76 L726.5,220.20 L727.5,219.63 L728.5,219.07 L729.5,218.50 L730.5,217.94 L731.5,217.38 L732.5,216.81 L733.5,216.25 L734.5,215.69 L735.5,215.13 L736.5,214.57 L737.5,214.01 L738.5,213.45 L739.5,212.89 L740.5,212.33 L741.5,211.77 L742.5,211.22 L743.5,210.66 L744.5,210.10 L745.5,209.54 L746.5,208.99 L747.5,208.43 L748.5,207.87 L749.5,207.31 L750.5,206.76 L751.5,206.20 L752.5,205.64 L753.5,205.08 L754.5,204.52 L755.5,203.97 L756.5,203.41 L757.5,202.85 L758.5,202.28 L759.5,201.72 L760.5,201.16 L761.5,200.60 L762.5,200.03 L763.5,199.46 L764.5,198.90 L765.5,198.33 L766.5,197.76 L767.5,197.19 L768.5,196.62 L769.5,196.04 L770.5,195.47 L771.5,194.89 L772.5,194.32 L773.5,193.74 L774.5,193.16 L775.5,192.58 L776.5,191.99 L777.5,191.41 L778.5,190.82 L779.5,190.23 L780.5,189.65 L781.5,189.05 L782.5,188.46 L783.5,187.87 L784.5,187.27 L785.5,186.67 L786.5,186.08 L787.5,185.47 L788.5,184.87 L789.5,184.27 L790.5,183.66 L791.5,183.05 L792.5,182.44 L793.5,181.83 L794.5,181.22 L795.5,180.60 L796.5,179.98 L797.5,179.36 L798.5,178.74 L799.5,178.12 L800.5,177.49 L801.5,176.86 L802.5,176.23 L803.5,175.60 L804.5,174.96 L805.5,174.33 L806.5,173.69 L807.5,173.04 L808.5,172.40 L809.5,171.75 L810.5,171.10 L811.5,170.45 L812.5,169.80 L813.5,169.14 L814.5,168.48 L815.5,167.82 L816.5,167.16 L817.5,166.49 L818.5,165.82 L819.5,165.15 L820.5,164.47 L821.5,163.80 L822.5,163.12 L823.5,162.43 L824.5,161.75 L825.5,161.06 L826.5,160.37 L827.5,159.67 L828.5,158.98 L829.5,158.28 L830.5,157.57 L831.5,156.87 L832.5,156.16 L833.5,155.45 L834.5,154.73 L835.5,154.01 L836.5,153.29 L837.5,152.57 L838.5,151.84 L839.5,151.11 L840.5,150.38 L841.5,149.64 L842.5,148.90 L843.5,148.16 L844.5,147.42 L845.5,146.68 L846.5,145.93 L847.5,145.18 L848.5,144.43 L849.5,143.68 L850.5,142.93 L851.5,142.18 L852.5,141.43 L853.5,140.67 L854.5,139.92 L854.8,139.69" stroke="#EDB120"/>
<path d="M97.5,604.50 L98.5,603.78 L99.5,603.07 L100.5,602.35 L101.5,601.64 L102.5,600.92 L103.5,600.21 L104.5,599.50 L105.5,598.78 L106.5,598.07 L107.5,597.36 L108.5,596.65 L109.5,595.94 L110.5,595.23 L111.5,594.53 L112.5,593.82 L113.5,593.12 L114.5,592.41 L115.5,591.71 L116.5,591.02 L117.5,590.32 L118.5,589.62 L119.5,588.93 L120.5,588.24 L121.5,587.55 L122.5,586.87 L123.5,586.18 L124.5,585.50 L125.5,584.83 L126.5,584.15 L127.5,583.49 L128.5,582.82 L129.5,582.16 L130.5,581.51 L131.5,580.87 L132.5,580.23 L133.5,579.59 L134.5,578.97 L135.5,578.35 L136.5,577.74 L137.5,577.14 L138.5,576.54 L139.5,575.96 L140.5,575.38 L141.5,574.82 L142.5,574.26 L143.5,573.71 L144.5,573.17 L145.5,572.63 L146.5,572.10 L147.5,571.57 L148.5,571.05 L149.5,570.54 L150.5,570.02 L151.5,569.51 L152.5,569.00 L153.5,568.48 L154.5,567.97 L155.5,567.46 L156.5,566.95 L157.5,566.43 L158.5,565.91 L159.5,565.39 L160.5,564.86 L161.5,564.33 L162.5,563.79 L163.5,563.25 L164.5,562.71 L165.5,562.17 L166.5,561.63 L167.5,561.08 L168.5,560.54 L169.5,560.00 L170.5,559.46 L171.5,558.92 L172.5,558.38 L173.5,557.84 L174.5,557.29 L175.5,556.75 L176.5,556.20 L177.5,555.66 L178.5,555.10 L179.5,554.54 L180.5,553.98 L181.5,553.41 L182.5,552.84 L183.5,552.25 L184.5,551.66 L185.5,551.07 L186.5,550.46 L187.5,549.85 L188.5,549.23 L189.5,548.60 L190.5,547.96 L191.5,547.32 L192.5,546.66 L193.5,546.00 L194.5,545.33 L195.5,544.65 L196.5,543.97 L197.5,543.28 L198.5,542.59 L199.5,541.88 L200.5,541.18 L201.5,540.47 L202.5,539.75 L203.5,539.04 L204.5,538.32 L205.5,537.60 L206.5,536.87 L207.5,536.15 L208.5,535.42 L209.5,534.69 L210.5,533.97 L211.5,533.24 L212.5,532.52 L213.5,531.80 L214.5,531.08 L215.5,530.37 L216.5,529.66 L217.5,528.96 L218.5,528.26 L219.5,527.56 L220.5,526.87 L221.5,526.19 L222.5,525.51 L223.5,524.84 L224.5,524.17 L225.5,523.50 L226.5,522.84 L227.5,522.19 L228.5,521.54 L229.5,520.89 L230.5,520.25 L231.5,519.61 L232.5,518.98 L233.5,518.35 L234.5,517.73 L235.5,517.11 L236.5,516.49 L237.5,515.88 L238.5,515.27 L239.5,514.67 L240.5,514.07 L241.5,513.48 L242.5,512.88 L243.5,512.30 L244.5,511.71 L245.5,511.13 L246.5,510.55 L247.5,509.97 L248.5,509.39 L249.5,508.82 L250.5,508.24 L251.5,507.67 L252.5,507.09 L253.5,506.52 L254.5,505.94 L255.5,505.37 L256.5,504.79 L257.5,504.22 L258.5,503.64 L259.5,503.06 L260.5,502.47 L261.5,501.89 L262.5,501.30 L263.5,500.71 L264.5,500.12 L265.5,499.52 L266.5,498.93 L267.5,498.33 L268.5,497.74 L269.5,497.14 L270.5,496.54 L271.5,495.95 L272.5,495.35 L273.5,494.75 L274.5,494.16 L275.5,493.56 L276.5,492.97 L277.5,492.37 L278.5,491.78 L279.5,491.19 L280.5,490.61 L281.5,490.02 L282.5,489.44 L283.5,488.86 L284.5,488.28 L285.5,487.71 L286.5,487.13 L287.5,486.57 L288.5,486.00 L289.5,485.44 L290.5,484.89 L291.5,484.34 L292.5,483.79 L293.5,483.25 L294.5,482.71 L295.5,482.17 L296.5,481.64 L297.5,481.11 L298.5,480.59 L299.5,480.06 L300.5,479.54 L301.5,479.02 L302.5,478.50 L303.5,477.99 L304.5,477.47 L305.5,476.96 L306.5,476.45 L307.5,475.94 L308.5,475.43 L309.5,474.92 L310.5,474.41 L311.5,473.90 L312.5,473.39 L313.5,472.88 L314.5,472.37 L315.5,471.86 L316.5,471.35 L317.5,470.84 L318.5,470.33 L319.5,469.83 L320.5,469.32 L321.5,468.81 L322.5,468.30 L323.5,467.80 L324.5,467.29 L325.5,466.79 L326.5,466.28 L327.5,465.78 L328.5,465.27 L329.5,464.77 L330.5,464.27 L331.5,463.76 L332.5,463.26 L333.5,462.76 L334.5,462.26 L335.5,461.76 L336.5,461.26 L337.5,460.76 L338.5,460.26 L339.5,459.76 L340.5,459.26 L341.5,458.77 L342.5,458.27 L343.5,457.78 L344.5,457.28 L345.5,456.79 L346.5,456.30 L347.5,455.80 L348.5,455.31 L349.5,454.82 L350.5,454.33 L351.5,453.84 L352.5,453.35 L353.5,452.86 L354.5,452.38 L355.5,451.89 L356.5,451.40 L357.5,450.92 L358.5,450.43 L359.5,449.95 L360.5,449.46 L361.5,448.98 L362.5,448.50 L363.5,448.02 L364.5,447.54 L365.5,447.06 L366.5,446.58 L367.5,446.10 L368.5,445.62 L369.5,445.14 L370.5,444.66 L371.5,444.18 L372.5,443.71 L373.5,443.23 L374.5,442.76 L375.5,442.28 L376.5,441.81 L377.5,441.33 L378.5,440.86 L379.5,440.38 L380.5,439.91 L381.5,439.44 L382.5,438.97 L383.5,438.49 L384.5,438.02 L385.5,437.55 L386.5,437.08 L387.5,436.61 L388.5,436.14 L389.5,435.67 L390.5,435.20 L391.5,434.73 L392.5,434.26 L393.5,433.79 L394.5,433.32 L395.5,432.86 L396.5,432.39 L397.5,431.92 L398.5,431.45 L399.5,430.98 L400.5,430.51 L401.5,430.04 L402.5,429.56 L403.5,429.09 L404.5,428.62 L405.5,428.15 L406.5,427.67 L407.5,427.20 L408.5,426.72 L409.5,426.24 L410.5,425.77 L411.5,425.29 L412.5,424.81 L413.5,424.32 L414.5,423.84 L415.5,423.36 L416.5,422.87 L417.5,422.38 L418.5,421.89 L419.5,421.40 L420.5,420.90 L421.5,420.41 L422.5,419.91 L423.5,419.41 L424.5,418.91 L425.5,418.40 L426.5,417.90 L427.5,417.39 L428.5,416.87 L429.5,416.36 L430.5,415.84 L431.5,415.32 L432.5,414.80 L433.5,414.27 L434.5,413.74 L435.5,413.21 L436.5,412.67 L437.5,412.14 L438.5,411.59 L439.5,411.05 L440.5,410.50 L441.5,409.95 L442.5,409.39 L443.5,408.83 L444.5,408.27 L445.5,407.70 L446.5,407.13 L447.5,406.56 L448.5,405.99 L449.5,405.41 L450.5,404.83 L451.5,404.25 L452.5,403.67 L453.5,403.09 L454.5,402.50 L455.5,401.91 L456.5,401.32 L457.5,400.73 L458.5,400.14 L459.5,399.54 L460.5,398.95 L461.5,398.35 L462.5,397.75 L463.5,397.15 L464.5,396.55 L465.5,395.95 L466.5,395.34 L467.5,394.72 L468.5,394.11 L469.5,393.49 L470.5,392.86 L471.5,392.23 L472.5,391.59 L473.5,390.94 L474.5,390.29 L475.5,389.63 L476.5,388.96 L477.5,388.29 L478.5,387.60 L479.5,386.91 L480.5,386.20 L481.5,385.49 L482.5,384.77 L483.5,384.03 L484.5,383.29 L485.5,382.53 L486.5,381.77 L487.5,380.99 L488.5,380.21 L489.5,379.41 L490.5,378.61 L491.5,377.79 L492.5,376.96 L493.5,376.12 L494.5,375.27 L495.5,374.40 L496.5,373.53 L497.5,372.64 L498.5,371.75 L499.5,370.84 L500.5,369.92 L501.5,368.99 L502.5,368.05 L503.5,367.09 L504.5,366.13 L505.5,365.16 L506.5,364.18 L507.5,363.19 L508.5,362.19 L509.5,361.19 L510.5,360.18 L511.5,359.17 L512.5,358.15 L513.5,357.12 L514.5,356.10 L515.5,355.07 L516.5,354.04 L517.5,353.01 L518.5,351.98 L519.5,350.96 L520.5,349.93 L521.5,348.91 L522.5,347.90 L523.5,346.89 L524.5,345.89 L525.5,344.90 L526.5,343.93 L527.5,342.96 L528.5,342.01 L529.5,341.08 L530.5,340.17 L531.5,339.27 L532.5,338.39 L533.5,337.54 L534.5,336.70 L535.5,335.88 L536.5,335.09 L537.5,334.31 L538.5,333.55 L539.5,332.81 L540.5,332.10 L541.5,331.40 L542.5,330.72 L543.5,330.06 L544.5,329.42 L545.5,328.79 L546.5,328.18 L547.5,327.59 L548.5,327.01 L549.5,326.44 L550.5,325.88 L551.5,325.33 L552.5,324.79 L553.5,324.25 L554.5,323.73 L555.5,323.21 L556.5,322.69 L557.5,322.18 L558.5,321.68 L559.5,321.17 L560.5,320.67 L561.5,320.16 L562.5,319.66 L563.5,319.15 L564.5,318.64 L565.5,318.14 L566.5,317.63 L567.5,317.13 L568.5,316.62 L569.5,316.12 L570.5,315.62 L571.5,315.12 L572.5,314.61 L573.5,314.11 L574.5,313.61 L575.5,313.12 L576.5,312.62 L577.5,312.12 L578.5,311.63 L579.5,311.14 L580.5,310.64 L581.5,310.16 L582.5,309.67 L583.5,309.18 L584.5,308.69 L585.5,308.21 L586.5,307.72 L587.5,307.23 L588.5,306.75 L589.5,306.26 L590.5,305.77 L591.5,305.28 L592.5,304.78 L593.5,304.29 L594.5,303.79 L595.5,303.29 L596.5,302.78 L597.5,302.27 L598.5,301.76 L599.5,301.25 L600.5,300.73 L601.5,300.21 L602.5,299.68 L603.5,299.16 L604.5,298.63 L605.5,298.09 L606.5,297.56 L607.5,297.03 L608.5,296.49 L609.5,295.96 L610.5,295.43 L611.5,294.89 L612.5,294.36 L613.5,293.84 L614.5,293.31 L615.5,292.78 L616.5,292.26 L617.5,291.74 L618.5,291.23 L619.5,290.71 L620.5,290.20 L621.5,289.70 L622.5,289.19 L623.5,288.69 L624.5,288.19 L625.5,287.69 L626.5,287.19 L627.5,286.70 L628.5,286.20 L629.5,285.71 L630.5,285.22 L631.5,284.73 L632.5,284.24 L633.5,283.75 L634.5,283.26 L635.5,282.77 L636.5,282.29 L637.5,281.80 L638.5,281.31 L639.5,280.82 L640.5,280.34 L641.5,279.85 L642.5,279.36 L643.5,278.87 L644.5,278.39 L645.5,277.90 L646.5,277.41 L647.5,276.92 L648.5,276.43 L649.5,275.94 L650.5,275.46 L651.5,274.97 L652.5,274.48 L653.5,273.99 L654.5,273.50 L655.5,273.01 L656.5,272.52 L657.5,272.03 L658.5,271.54 L659.5,271.05 L660.5,270.56 L661.5,270.07 L662.5,269.58 L663.5,269.08 L664.5,268.59 L665.5,268.10 L666.5,267.61 L667.5,267.11 L668.5,266.62 L669.5,266.13 L670.5,265.63 L671.5,265.14 L672.5,264.64 L673.5,264.15 L674.5,263.65 L675.5,263.16 L676.5,262.66 L677.5,262.16 L678.5,261.66 L679.5,261.16 L680.5,260.66 L681.5,260.16 L682.5,259.66 L683.5,259.16 L684.5,258.66 L685.5,258.15 L686.5,257.65 L687.5,257.14 L688.5,256.63 L689.5,256.13 L690.5,255.62 L691.5,255.11 L692.5,254.60 L693.5,254.08 L694.5,253.57 L695.5,253.05 L696.5,252.54 L697.5,252.02 L698.5,251.50 L699.5,250.98 L700.5,250.46 L701.5,249.94 L702.5,249.41 L703.5,248.89 L704.5,248.36 L705.5,247.83 L706.5,247.30 L707.5,246.77 L708.5,246.24 L709.5,245.70 L710.5,245.16 L711.5,244.63 L712.5,244.09 L713.5,243.55 L714.5,243.00 L715.5,242.46 L716.5,241.92 L717.5,241.37 L718.5,240.82 L719.5,240.28 L720.5,239.73 L721.5,239.18 L722.5,238.63 L723.5,238.08 L724.5,237.52 L725.5,236.97 L726.5,236.42 L727.5,235.86 L728.5,235.31 L729.5,234.75 L730.5,234.20 L731.5,233.64 L732.5,233.08 L733.5,232.53 L734.5,231.97 L735.5,231.41 L736.5,230.85 L737.5,230.30 L738.5,229.74 L739.5,229.18 L740.5,228.62 L741.5,228.06 L742.5,227.50 L743.5,226.94 L744.5,226.39 L745.5,225.83 L746.5,225.27 L747.5,224.71 L748.5,224.15 L749.5,223.59 L750.5,223.03 L751.5,222.48 L752.5,221.92 L753.5,221.36 L754.5,220.80 L755.5,220.24 L756.5,219.68 L757.5,219.13 L758.5,218.57 L759.5,218.01 L760.5,217.45 L761.5,216.90 L762.5,216.34 L763.5,215.78 L764.5,215.23 L765.5,214.67 L766.5,214.11 L767.5,213.56 L768.5,213.00 L769.5,212.44 L770.5,211.89 L771.5,211.33 L772.5,210.78 L773.5,210.22 L774.5,209.67 L775.5,209.11 L776.5,208.56 L777.5,208.00 L778.5,207.45 L779.5,206.90 L780.5,206.34 L781.5,205.79 L782.5,205.23 L783.5,204.68 L784.5,204.13 L785.5,203.57 L786.5,203.02 L787.5,202.47 L788.5,201.92 L789.5,201.36 L790.5,200.81 L791.5,200.26 L792.5,199.71 L793.5,199.16 L794.5,198.61 L795.5,198.05 L796.5,197.50 L797.5,196.95 L798.5,196.40 L799.5,195.85 L800.5,195.30 L801.5,194.75 L802.5,194.20 L803.5,193.65 L804.5,193.10 L805.5,192.55 L806.5,192.00 L807.5,191.45 L808.5,190.90 L809.5,190.35 L810.5,189.80 L811.5,189.26 L812.5,188.71 L813.5,188.16 L814.5,187.61 L815.5,187.06 L816.5,186.51 L817.5,185.97 L818.5,185.42 L819.5,184.87 L820.5,184.32 L821.5,183.78 L822.5,183.23 L823.5,182.68 L824.5,182.14 L825.5,181.59 L826.5,181.05 L827.5,180.50 L828.5,179.95 L829.5,179.41 L830.5,178.86 L831.5,178.32 L832.5,177.77 L833.5,177.23 L834.5,176.68 L835.5,176.14 L836.5,175.60 L837.5,175.05 L838.5,174.51 L839.5,173.97 L840.5,173.42 L841.5,172.88 L842.5,172.34 L843.5,171.80 L844.5,171.25 L845.5,170.71 L846.5,170.17 L847.5,169.63 L848.5,169.09 L849.5,168.55 L850.5,168.00 L851.5,167.46 L852.5,166.92 L853.5,166.38 L854.5,165.84 L854.8,165.68" stroke="#7E2F8E"/>
<path d="M97.5,604.50 L98.5,603.83 L99.5,603.16 L100.5,602.49 L101.5,601.82 L102.5,601.16 L103.5,600.49 L104.5,599.82 L105.5,599.16 L106.5,598.49 L107.5,597.83 L108.5,597.16 L109.5,596.50 L110.5,595.84 L111.5,595.18 L112.5,594.52 L113.5,593.87 L114.5,593.21 L115.5,592.56 L116.5,591.91 L117.5,591.26 L118.5,590.62 L119.5,589.97 L120.5,589.33 L121.5,588.69 L122.5,588.05 L123.5,587.42 L124.5,586.79 L125.5,586.16 L126.5,585.54 L127.5,584.92 L128.5,584.31 L129.5,583.70 L130.5,583.10 L131.5,582.50 L132.5,581.91 L133.5,581.33 L134.5,580.75 L135.5,580.18 L136.5,579.62 L137.5,579.07 L138.5,578.52 L139.5,577.99 L140.5,577.46 L141.5,576.95 L142.5,576.44 L143.5,575.94 L144.5,575.44 L145.5,574.96 L146.5,574.48 L147.5,574.01 L148.5,573.54 L149.5,573.08 L150.5,572.62 L151.5,572.16 L152.5,571.71 L153.5,571.27 L154.5,570.82 L155.5,570.38 L156.5,569.94 L157.5,569.50 L158.5,569.06 L159.5,568.62 L160.5,568.18 L161.5,567.74 L162.5,567.30 L163.5,566.86 L164.5,566.42 L165.5,565.97 L166.5,565.53 L167.5,565.09 L168.5,564.65 L169.5,564.21 L170.5,563.77 L171.5,563.33 L172.5,562.89 L173.5,562.44 L174.5,561.99 L175.5,561.54 L176.5,561.09 L177.5,560.62 L178.5,560.16 L179.5,559.68 L180.5,559.20 L181.5,558.70 L182.5,558.20 L183.5,557.69 L184.5,557.17 L185.5,556.64 L186.5,556.09 L187.5,555.54 L188.5,554.97 L189.5,554.38 L190.5,553.79 L191.5,553.18 L192.5,552.56 L193.5,551.92 L194.5,551.27 L195.5,550.60 L196.5,549.91 L197.5,549.22 L198.5,548.50 L199.5,547.77 L200.5,547.03 L201.5,546.26 L202.5,545.49 L203.5,544.71 L204.5,543.91 L205.5,543.11 L206.5,542.30 L207.5,541.49 L208.5,540.68 L209.5,539.86 L210.5,539.05 L211.5,538.24 L212.5,537.43 L213.5,536.62 L214.5,535.82 L215.5,535.02 L216.5,534.23 L217.5,533.45 L218.5,532.68 L219.5,531.91 L220.5,531.15 L221.5,530.40 L222.5,529.66 L223.5,528.92 L224.5,528.20 L225.5,527.47 L226.5,526.76 L227.5,526.05 L228.5,525.35 L229.5,524.66 L230.5,523.98 L231.5,523.30 L232.5,522.63 L233.5,521.96 L234.5,521.31 L235.5,520.66 L236.5,520.01 L237.5,519.38 L238.5,518.75 L239.5,518.13 L240.5,517.51 L241.5,516.90 L242.5,516.30 L243.5,515.69 L244.5,515.10 L245.5,514.50 L246.5,513.91 L247.5,513.31 L248.5,512.71 L249.5,512.11 L250.5,511.51 L251.5,510.90 L252.5,510.29 L253.5,509.67 L254.5,509.05 L255.5,508.42 L256.5,507.79 L257.5,507.15 L258.5,506.51 L259.5,505.86 L260.5,505.21 L261.5,504.55 L262.5,503.90 L263.5,503.24 L264.5,502.58 L265.5,501.92 L266.5,501.26 L267.5,500.61 L268.5,499.96 L269.5,499.31 L270.5,498.67 L271.5,498.04 L272.5,497.42 L273.5,496.81 L274.5,496.20 L275.5,495.61 L276.5,495.02 L277.5,494.45 L278.5,493.88 L279.5,493.32 L280.5,492.77 L281.5,492.23 L282.5,491.69 L283.5,491.16 L284.5,490.64 L285.5,490.12 L286.5,489.61 L287.5,489.10 L288.5,488.60 L289.5,488.10 L290.5,487.60 L291.5,487.11 L292.5,486.62 L293.5,486.14 L294.5,485.66 L295.5,485.18 L296.5,484.71 L297.5,484.23 L298.5,483.77 L299.5,483.30 L300.5,482.83 L301.5,482.37 L302.5,481.91 L303.5,481.46 L304.5,481.00 L305.5,480.55 L306.5,480.09 L307.5,479.64 L308.5,479.19 L309.5,478.74 L310.5,478.30 L311.5,477.85 L312.5,477.41 L313.5,476.96 L314.5,476.52 L315.5,476.08 L316.5,475.63 L317.5,475.19 L318.5,474.75 L319.5,474.32 L320.5,473.88 L321.5,473.44 L322.5,473.01 L323.5,472.57 L324.5,472.14 L325.5,471.71 L326.5,471.27 L327.5,470.84 L328.5,470.41 L329.5,469.99 L330.5,469.56 L331.5,469.13 L332.5,468.70 L333.5,468.28 L334.5,467.86 L335.5,467.43 L336.5,467.01 L337.5,466.59 L338.5,466.17 L339.5,465.75 L340.5,465.33 L341.5,464.91 L342.5,464.50 L343.5,464.08 L344.5,463.67 L345.5,463.25 L346.5,462.84 L347.5,462.43 L348.5,462.02 L349.5,461.62 L350.5,461.21 L351.5,460.81 L352.5,460.41 L353.5,460.01 L354.5,459.61 L355.5,459.22 L356.5,458.83 L357.5,458.44 L358.5,458.05 L359.5,457.67 L360.5,457.29 L361.5,456.91 L362.5,456.53 L363.5,456.16 L364.5,455.79 L365.5,455.42 L366.5,455.05 L367.5,454.68 L368.5,454.32 L369.5,453.96 L370.5,453.60 L371.5,453.23 L372.5,452.87 L373.5,452.51 L374.5,452.15 L375.5,451.79 L376.5,451.43 L377.5,451.07 L378.5,450.71 L379.5,450.35 L380.5,449.99 L381.5,449.62 L382.5,449.26 L383.5,448.89 L384.5,448.52 L385.5,448.15 L386.5,447.78 L387.5,447.41 L388.5,447.03 L389.5,446.65 L390.5,446.27 L391.5,445.88 L392.5,445.50 L393.5,445.11 L394.5,444.71 L395.5,444.32 L396.5,443.92 L397.5,443.53 L398.5,443.13 L399.5,442.73 L400.5,442.32 L401.5,441.92 L402.5,441.52 L403.5,441.11 L404.5,440.71 L405.5,440.31 L406.5,439.90 L407.5,439.50 L408.5,439.10 L409.5,438.70 L410.5,438.30 L411.5,437.90 L412.5,437.50 L413.5,437.10 L414.5,436.70 L415.5,436.31 L416.5,435.91 L417.5,435.51 L418.5,435.12 L419.5,434.72 L420.5,434.33 L421.5,433.93 L422.5,433.54 L423.5,433.14 L424.5,432.74 L425.5,432.35 L426.5,431.95 L427.5,431.55 L428.5,431.15 L429.5,430.75 L430.5,430.34 L431.5,429.94 L432.5,429.53 L433.5,429.13 L434.5,428.72 L435.5,428.31 L436.5,427.89 L437.5,427.48 L438.5,427.06 L439.5,426.64 L440.5,426.22 L441.5,425.80 L442.5,425.37 L443.5,424.94 L444.5,424.51 L445.5,424.07 L446.5,423.63 L447.5,423.19 L448.5,422.75 L449.5,422.30 L450.5,421.86 L451.5,421.40 L452.5,420.95 L453.5,420.49 L454.5,420.04 L455.5,419.57 L456.5,419.11 L457.5,418.64 L458.5,418.17 L459.5,417.70 L460.5,417.23 L461.5,416.75 L462.5,416.27 L463.5,415.78 L464.5,415.29 L465.5,414.80 L466.5,414.31 L467.5,413.81 L468.5,413.31 L469.5,412.81 L470.5,412.30 L471.5,411.79 L472.5,411.27 L473.5,410.75 L474.5,410.23 L475.5,409.70 L476.5,409.16 L477.5,408.62 L478.5,408.08 L479.5,407.53 L480.5,406.98 L481.5,406.42 L482.5,405.85 L483.5,405.28 L484.5,404.71 L485.5,404.12 L486.5,403.53 L487.5,402.94 L488.5,402.34 L489.5,401.73 L490.5,401.11 L491.5,400.49 L492.5,399.86 L493.5,399.22 L494.5,398.57 L495.5,397.91 L496.5,397.25 L497.5,396.57 L498.5,395.88 L499.5,395.19 L500.5,394.48 L501.5,393.75 L502.5,393.02 L503.5,392.27 L504.5,391.50 L505.5,390.72 L506.5,389.93 L507.5,389.12 L508.5,388.29 L509.5,387.45 L510.5,386.58 L511.5,385.70 L512.5,384.80 L513.5,383.88 L514.5,382.94 L515.5,381.98 L516.5,381.00 L517.5,379.99 L518.5,378.96 L519.5,377.90 L520.5,376.82 L521.5,375.72 L522.5,374.59 L523.5,373.44 L524.5,372.26 L525.5,371.06 L526.5,369.83 L527.5,368.59 L528.5,367.32 L529.5,366.02 L530.5,364.71 L531.5,363.38 L532.5,362.02 L533.5,360.66 L534.5,359.28 L535.5,357.90 L536.5,356.51 L537.5,355.12 L538.5,353.73 L539.5,352.35 L540.5,350.98 L541.5,349.62 L542.5,348.27 L543.5,346.94 L544.5,345.63 L545.5,344.35 L546.5,343.09 L547.5,341.86 L548.5,340.65 L549.5,339.48 L550.5,338.35 L551.5,337.25 L552.5,336.19 L553.5,335.17 L554.5,334.18 L555.5,333.22 L556.5,332.30 L557.5,331.42 L558.5,330.57 L559.5,329.74 L560.5,328.96 L561.5,328.20 L562.5,327.47 L563.5,326.77 L564.5,326.09 L565.5,325.44 L566.5,324.81 L567.5,324.21 L568.5,323.63 L569.5,323.06 L570.5,322.51 L571.5,321.98 L572.5,321.47 L573.5,320.96 L574.5,320.47 L575.5,319.99 L576.5,319.52 L577.5,319.06 L578.5,318.60 L579.5,318.14 L580.5,317.69 L581.5,317.24 L582.5,316.80 L583.5,316.35 L584.5,315.90 L585.5,315.46 L586.5,315.01 L587.5,314.57 L588.5,314.12 L589.5,313.67 L590.5,313.22 L591.5,312.77 L592.5,312.32 L593.5,311.87 L594.5,311.42 L595.5,310.96 L596.5,310.51 L597.5,310.05 L598.5,309.58 L599.5,309.12 L600.5,308.65 L601.5,308.18 L602.5,307.71 L603.5,307.23 L604.5,306.76 L605.5,306.28 L606.5,305.80 L607.5,305.32 L608.5,304.84 L609.5,304.36 L610.5,303.88 L611.5,303.39 L612.5,302.91 L613.5,302.43 L614.5,301.95 L615.5,301.48 L616.5,301.00 L617.5,300.52 L618.5,300.05 L619.5,299.58 L620.5,299.11 L621.5,298.64 L622.5,298.17 L623.5,297.71 L624.5,297.25 L625.5,296.79 L626.5,296.33 L627.5,295.87 L628.5,295.42 L629.5,294.97 L630.5,294.52 L631.5,294.07 L632.5,293.62 L633.5,293.17 L634.5,292.73 L635.5,292.29 L636.5,291.85 L637.5,291.41 L638.5,290.97 L639.5,290.53 L640.5,290.10 L641.5,289.66 L642.5,289.23 L643.5,288.80 L644.5,288.36 L645.5,287.93 L646.5,287.50 L647.5,287.08 L648.5,286.65 L649.5,286.22 L650.5,285.79 L651.5,285.37 L652.5,284.94 L653.5,284.52 L654.5,284.09 L655.5,283.67 L656.5,283.25 L657.5,282.83 L658.5,282.40 L659.5,281.98 L660.5,281.56 L661.5,281.14 L662.5,280.72 L663.5,280.30 L664.5,279.88 L665.5,279.46 L666.5,279.04 L667.5,278.62 L668.5,278.21 L669.5,277.79 L670.5,277.37 L671.5,276.95 L672.5,276.54 L673.5,276.12 L674.5,275.71 L675.5,275.29 L676.5,274.87 L677.5,274.46 L678.5,274.04 L679.5,273.63 L680.5,273.21 L681.5,272.80 L682.5,272.38 L683.5,271.97 L684.5,271.55 L685.5,271.14 L686.5,270.72 L687.5,270.31 L688.5,269.89 L689.5,269.48 L690.5,269.07 L691.5,268.65 L692.5,268.24 L693.5,267.82 L694.5,267.41 L695.5,267.00 L696.5,266.58 L697.5,266.17 L698.5,265.75 L699.5,265.34 L700.5,264.93 L701.5,264.51 L702.5,264.10 L703.5,263.68 L704.5,263.27 L705.5,262.85 L706.5,262.44 L707.5,262.02 L708.5,261.61 L709.5,261.19 L710.5,260.78 L711.5,260.36 L712.5,259.95 L713.5,259.53 L714.5,259.11 L715.5,258.70 L716.5,258.28 L717.5,257.86 L718.5,257.45 L719.5,257.03 L720.5,256.61 L721.5,256.20 L722.5,255.78 L723.5,255.36 L724.5,254.94 L725.5,254.52 L726.5,254.10 L727.5,253.68 L728.5,253.26 L729.5,252.84 L730.5,252.42 L731.5,252.00 L732.5,251.58 L733.5,251.16 L734.5,250.74 L735.5,250.32 L736.5,249.90 L737.5,249.48 L738.5,249.05 L739.5,248.63 L740.5,248.21 L741.5,247.78 L742.5,247.36 L743.5,246.93 L744.5,246.51 L745.5,246.08 L746.5,245.66 L747.5,245.23 L748.5,244.80 L749.5,244.38 L750.5,243.95 L751.5,243.52 L752.5,243.09 L753.5,242.66 L754.5,242.23 L755.5,241.80 L756.5,241.36 L757.5,240.93 L758.5,240.50 L759.5,240.06 L760.5,239.63 L761.5,239.19 L762.5,238.76 L763.5,238.32 L764.5,237.88 L765.5,237.44 L766.5,237.00 L767.5,236.56 L768.5,236.12 L769.5,235.67 L770.5,235.23 L771.5,234.78 L772.5,234.34 L773.5,233.89 L774.5,233.44 L775.5,232.99 L776.5,232.54 L777.5,232.09 L778.5,231.64 L779.5,231.18 L780.5,230.73 L781.5,230.27 L782.5,229.81 L783.5,229.35 L784.5,228.89 L785.5,228.43 L786.5,227.97 L787.5,227.50 L788.5,227.04 L789.5,226.57 L790.5,226.11 L791.5,225.64 L792.5,225.17 L793.5,224.70 L794.5,224.23 L795.5,223.75 L796.5,223.28 L797.5,222.81 L798.5,222.33 L799.5,221.86 L800.5,221.38 L801.5,220.90 L802.5,220.42 L803.5,219.95 L804.5,219.47 L805.5,218.99 L806.5,218.51 L807.5,218.02 L808.5,217.54 L809.5,217.06 L810.5,216.58 L811.5,216.10 L812.5,215.61 L813.5,215.13 L814.5,214.65 L815.5,214.16 L816.5,213.68 L817.5,213.19 L818.5,212.71 L819.5,212.22 L820.5,211.74 L821.5,211.25 L822.5,210.77 L823.5,210.28 L824.5,209.79 L825.5,209.31 L826.5,208.82 L827.5,208.34 L828.5,207.85 L829.5,207.37 L830.5,206.88 L831.5,206.40 L832.5,205.91 L833.5,205.43 L834.5,204.94 L835.5,204.46 L836.5,203.98 L837.5,203.49 L838.5,203.01 L839.5,202.53 L840.5,202.04 L841.5,201.56 L842.5,201.08 L843.5,200.60 L844.5,200.12 L845.5,199.63 L846.5,199.15 L847.5,198.67 L848.5,198.19 L849.5,197.71 L850.5,197.23 L851.5,196.75 L852.5,196.27 L853.5,195.79 L854.5,195.31 L854.8,195.17" stroke="#77AC30"/>
</g>
<rect x="97.5" y="39.0" width="777.0" height="565.5" fill="none" stroke="#262626" stroke-width="1.3"/>
<path d="M252.90,604.5V596.7M252.90,39.0V46.8M408.30,604.5V596.7M408.30,39.0V46.8M563.70,604.5V596.7M563.70,39.0V46.8M719.10,604.5V596.7M719.10,39.0V46.8M97.5,491.40H105.3M874.5,491.40H866.7M97.5,378.30H105.3M874.5,378.30H866.7M97.5,265.20H105.3M874.5,265.20H866.7M97.5,152.10H105.3M874.5,152.10H866.7" stroke="#262626" stroke-width="1.3" fill="none"/>
<g font-family="Liberation Serif, serif" font-size="30" fill="#000">
<text x="97.50" y="639.7" text-anchor="middle">0</text>
<text x="252.90" y="639.7" text-anchor="middle">1</text>
<text x="408.30" y="639.7" text-anchor="middle">2</text>
<text x="563.70" y="639.7" text-anchor="middle">3</text>
<text x="719.10" y="639.7" text-anchor="middle">4</text>
<text x="874.50" y="639.7" text-anchor="middle">5</text>
<text x="87.6" y="612.1" text-anchor="end">0</text>
<text x="87.6" y="499.0" text-anchor="end">0.2</text>
<text x="87.6" y="385.9" text-anchor="end">0.4</text>
<text x="87.6" y="272.8" text-anchor="end">0.6</text>
<text x="87.6" y="159.7" text-anchor="end">0.8</text>
<text x="87.6" y="46.6" text-anchor="end">1</text>
</g>
<text transform="translate(33,466.90) rotate(-90)" font-family="Liberation Serif, serif" font-size="34"><tspan x="-1" textLength="141.8" lengthAdjust="spacingAndGlyphs">Lithiation</tspan> <tspan x="151.6" textLength="70.5" lengthAdjust="spacingAndGlyphs">state</tspan> <tspan x="233.2" font-style="italic" textLength="17" lengthAdjust="spacingAndGlyphs">x</tspan> <tspan x="263.8" textLength="25.5" lengthAdjust="spacingAndGlyphs">[-]</tspan></text>
<text y="678.9" font-family="Liberation Serif, serif" font-size="34"><tspan x="437.6" textLength="23.5" lengthAdjust="spacingAndGlyphs">Q</tspan> <tspan x="474.8" textLength="58.5" lengthAdjust="spacingAndGlyphs">[Ah]</tspan></text>
<rect x="465.4" y="20.9" width="82.4" height="47.4" fill="#fff" stroke="#262626" stroke-width="1.4"/>
<text font-family="Liberation Serif, serif"><tspan x="475.1" y="58.3" font-size="42">C</tspan><tspan x="503.6" y="66.8" font-size="56">/</tspan><tspan x="519.5" y="58.7" font-size="40.6">5</tspan></text>
<rect x="726.6" y="396.6" width="116.0" height="168.9" fill="#fff" stroke="#4a4a4a" stroke-width="1.1"/>
<path d="M732,415.70H787.5" stroke="#0072BD" stroke-width="2.6"/>
<text x="792.4" y="422.20" font-family="Liberation Serif, serif" font-size="27" font-style="italic" textLength="42" lengthAdjust="spacingAndGlyphs">R<tspan font-size="19" dy="4.5">p</tspan><tspan font-size="19" font-style="normal">,1</tspan></text>
<path d="M732,448.55H787.5" stroke="#D95319" stroke-width="2.6"/>
<text x="792.4" y="455.05" font-family="Liberation Serif, serif" font-size="27" font-style="italic" textLength="42" lengthAdjust="spacingAndGlyphs">R<tspan font-size="19" dy="4.5">p</tspan><tspan font-size="19" font-style="normal">,2</tspan></text>
<path d="M732,481.40H787.5" stroke="#EDB120" stroke-width="2.6"/>
<text x="792.4" y="487.90" font-family="Liberation Serif, serif" font-size="27" font-style="italic" textLength="42" lengthAdjust="spacingAndGlyphs">R<tspan font-size="19" dy="4.5">p</tspan><tspan font-size="19" font-style="normal">,3</tspan></text>
<path d="M732,514.25H787.5" stroke="#7E2F8E" stroke-width="2.6"/>
<text x="792.4" y="520.75" font-family="Liberation Serif, serif" font-size="27" font-style="italic" textLength="42" lengthAdjust="spacingAndGlyphs">R<tspan font-size="19" dy="4.5">p</tspan><tspan font-size="19" font-style="normal">,4</tspan></text>
<path d="M732,547.10H787.5" stroke="#77AC30" stroke-width="2.6"/>
<text x="792.4" y="553.60" font-family="Liberation Serif, serif" font-size="27" font-style="italic" textLength="42" lengthAdjust="spacingAndGlyphs">R<tspan font-size="19" dy="4.5">p</tspan><tspan font-size="19" font-style="normal">,5</tspan></text>
</g>
<g>
<clipPath id="clip1"><rect x="97.5" y="743.7" width="777.0" height="565.5"/></clipPath>
<g clip-path="url(#clip1)" fill="none" stroke-width="2.6" stroke-linejoin="round" stroke-linecap="butt">
<path d="M97.5,1309.16 L98.5,1307.53 L99.5,1305.90 L100.5,1304.30 L101.5,1302.72 L102.5,1301.19 L103.5,1299.69 L104.5,1298.23 L105.5,1296.82 L106.5,1295.45 L107.5,1294.13 L108.5,1292.86 L109.5,1291.62 L110.5,1290.42 L111.5,1289.25 L112.5,1288.11 L113.5,1287.01 L114.5,1285.93 L115.5,1284.87 L116.5,1283.84 L117.5,1282.82 L118.5,1281.82 L119.5,1280.84 L120.5,1279.87 L121.5,1278.91 L122.5,1277.96 L123.5,1277.02 L124.5,1276.08 L125.5,1275.14 L126.5,1274.21 L127.5,1273.27 L128.5,1272.34 L129.5,1271.40 L130.5,1270.46 L131.5,1269.52 L132.5,1268.58 L133.5,1267.63 L134.5,1266.68 L135.5,1265.73 L136.5,1264.78 L137.5,1263.82 L138.5,1262.85 L139.5,1261.89 L140.5,1260.91 L141.5,1259.94 L142.5,1258.96 L143.5,1257.97 L144.5,1256.99 L145.5,1256.01 L146.5,1255.03 L147.5,1254.05 L148.5,1253.07 L149.5,1252.10 L150.5,1251.14 L151.5,1250.18 L152.5,1249.23 L153.5,1248.29 L154.5,1247.36 L155.5,1246.45 L156.5,1245.55 L157.5,1244.67 L158.5,1243.80 L159.5,1242.96 L160.5,1242.13 L161.5,1241.32 L162.5,1240.53 L163.5,1239.76 L164.5,1239.01 L165.5,1238.28 L166.5,1237.56 L167.5,1236.87 L168.5,1236.19 L169.5,1235.52 L170.5,1234.88 L171.5,1234.25 L172.5,1233.63 L173.5,1233.03 L174.5,1232.44 L175.5,1231.86 L176.5,1231.30 L177.5,1230.74 L178.5,1230.20 L179.5,1229.67 L180.5,1229.15 L181.5,1228.63 L182.5,1228.13 L183.5,1227.63 L184.5,1227.14 L185.5,1226.66 L186.5,1226.18 L187.5,1225.71 L188.5,1225.24 L189.5,1224.77 L190.5,1224.31 L191.5,1223.85 L192.5,1223.39 L193.5,1222.93 L194.5,1222.47 L195.5,1222.01 L196.5,1221.55 L197.5,1221.08 L198.5,1220.61 L199.5,1220.13 L200.5,1219.65 L201.5,1219.17 L202.5,1218.67 L203.5,1218.17 L204.5,1217.66 L205.5,1217.15 L206.5,1216.63 L207.5,1216.10 L208.5,1215.56 L209.5,1215.01 L210.5,1214.46 L211.5,1213.90 L212.5,1213.33 L213.5,1212.76 L214.5,1212.17 L215.5,1211.58 L216.5,1210.98 L217.5,1210.37 L218.5,1209.75 L219.5,1209.13 L220.5,1208.49 L221.5,1207.85 L222.5,1207.20 L223.5,1206.55 L224.5,1205.90 L225.5,1205.24 L226.5,1204.57 L227.5,1203.91 L228.5,1203.24 L229.5,1202.57 L230.5,1201.91 L231.5,1201.24 L232.5,1200.58 L233.5,1199.92 L234.5,1199.27 L235.5,1198.62 L236.5,1197.97 L237.5,1197.33 L238.5,1196.70 L239.5,1196.07 L240.5,1195.45 L241.5,1194.82 L242.5,1194.20 L243.5,1193.58 L244.5,1192.96 L245.5,1192.34 L246.5,1191.71 L247.5,1191.08 L248.5,1190.45 L249.5,1189.82 L250.5,1189.17 L251.5,1188.52 L252.5,1187.87 L253.5,1187.20 L254.5,1186.53 L255.5,1185.84 L256.5,1185.15 L257.5,1184.44 L258.5,1183.73 L259.5,1183.00 L260.5,1182.26 L261.5,1181.51 L262.5,1180.75 L263.5,1179.97 L264.5,1179.18 L265.5,1178.38 L266.5,1177.56 L267.5,1176.73 L268.5,1175.89 L269.5,1175.03 L270.5,1174.15 L271.5,1173.26 L272.5,1172.36 L273.5,1171.44 L274.5,1170.50 L275.5,1169.56 L276.5,1168.60 L277.5,1167.63 L278.5,1166.66 L279.5,1165.67 L280.5,1164.68 L281.5,1163.67 L282.5,1162.66 L283.5,1161.65 L284.5,1160.63 L285.5,1159.61 L286.5,1158.58 L287.5,1157.55 L288.5,1156.52 L289.5,1155.49 L290.5,1154.46 L291.5,1153.43 L292.5,1152.40 L293.5,1151.37 L294.5,1150.34 L295.5,1149.31 L296.5,1148.29 L297.5,1147.26 L298.5,1146.24 L299.5,1145.21 L300.5,1144.19 L301.5,1143.17 L302.5,1142.15 L303.5,1141.13 L304.5,1140.12 L305.5,1139.10 L306.5,1138.09 L307.5,1137.07 L308.5,1136.06 L309.5,1135.05 L310.5,1134.04 L311.5,1133.04 L312.5,1132.03 L313.5,1131.03 L314.5,1130.03 L315.5,1129.02 L316.5,1128.02 L317.5,1127.02 L318.5,1126.02 L319.5,1125.02 L320.5,1124.02 L321.5,1123.02 L322.5,1122.02 L323.5,1121.02 L324.5,1120.01 L325.5,1119.01 L326.5,1118.01 L327.5,1117.00 L328.5,1115.99 L329.5,1114.98 L330.5,1113.97 L331.5,1112.95 L332.5,1111.94 L333.5,1110.92 L334.5,1109.90 L335.5,1108.87 L336.5,1107.84 L337.5,1106.81 L338.5,1105.78 L339.5,1104.74 L340.5,1103.70 L341.5,1102.66 L342.5,1101.61 L343.5,1100.56 L344.5,1099.51 L345.5,1098.45 L346.5,1097.39 L347.5,1096.33 L348.5,1095.27 L349.5,1094.20 L350.5,1093.12 L351.5,1092.05 L352.5,1090.97 L353.5,1089.88 L354.5,1088.80 L355.5,1087.70 L356.5,1086.61 L357.5,1085.51 L358.5,1084.41 L359.5,1083.30 L360.5,1082.19 L361.5,1081.08 L362.5,1079.97 L363.5,1078.85 L364.5,1077.74 L365.5,1076.62 L366.5,1075.51 L367.5,1074.39 L368.5,1073.28 L369.5,1072.17 L370.5,1071.06 L371.5,1069.95 L372.5,1068.85 L373.5,1067.75 L374.5,1066.66 L375.5,1065.57 L376.5,1064.49 L377.5,1063.42 L378.5,1062.35 L379.5,1061.29 L380.5,1060.24 L381.5,1059.20 L382.5,1058.17 L383.5,1057.14 L384.5,1056.13 L385.5,1055.13 L386.5,1054.15 L387.5,1053.17 L388.5,1052.21 L389.5,1051.27 L390.5,1050.34 L391.5,1049.43 L392.5,1048.53 L393.5,1047.66 L394.5,1046.80 L395.5,1045.96 L396.5,1045.14 L397.5,1044.34 L398.5,1043.57 L399.5,1042.81 L400.5,1042.07 L401.5,1041.35 L402.5,1040.65 L403.5,1039.97 L404.5,1039.31 L405.5,1038.66 L406.5,1038.04 L407.5,1037.43 L408.5,1036.85 L409.5,1036.28 L410.5,1035.72 L411.5,1035.19 L412.5,1034.67 L413.5,1034.16 L414.5,1033.67 L415.5,1033.20 L416.5,1032.74 L417.5,1032.28 L418.5,1031.85 L419.5,1031.42 L420.5,1031.00 L421.5,1030.60 L422.5,1030.20 L423.5,1029.81 L424.5,1029.44 L425.5,1029.07 L426.5,1028.71 L427.5,1028.36 L428.5,1028.01 L429.5,1027.68 L430.5,1027.35 L431.5,1027.03 L432.5,1026.71 L433.5,1026.40 L434.5,1026.10 L435.5,1025.80 L436.5,1025.51 L437.5,1025.22 L438.5,1024.94 L439.5,1024.66 L440.5,1024.39 L441.5,1024.12 L442.5,1023.85 L443.5,1023.58 L444.5,1023.32 L445.5,1023.07 L446.5,1022.81 L447.5,1022.56 L448.5,1022.31 L449.5,1022.06 L450.5,1021.81 L451.5,1021.57 L452.5,1021.33 L453.5,1021.09 L454.5,1020.85 L455.5,1020.61 L456.5,1020.37 L457.5,1020.13 L458.5,1019.89 L459.5,1019.65 L460.5,1019.42 L461.5,1019.18 L462.5,1018.94 L463.5,1018.70 L464.5,1018.46 L465.5,1018.22 L466.5,1017.97 L467.5,1017.73 L468.5,1017.48 L469.5,1017.23 L470.5,1016.98 L471.5,1016.72 L472.5,1016.47 L473.5,1016.20 L474.5,1015.94 L475.5,1015.67 L476.5,1015.40 L477.5,1015.12 L478.5,1014.84 L479.5,1014.55 L480.5,1014.26 L481.5,1013.96 L482.5,1013.66 L483.5,1013.35 L484.5,1013.03 L485.5,1012.71 L486.5,1012.38 L487.5,1012.04 L488.5,1011.70 L489.5,1011.35 L490.5,1010.99 L491.5,1010.63 L492.5,1010.26 L493.5,1009.88 L494.5,1009.49 L495.5,1009.10 L496.5,1008.70 L497.5,1008.29 L498.5,1007.88 L499.5,1007.47 L500.5,1007.05 L501.5,1006.62 L502.5,1006.19 L503.5,1005.75 L504.5,1005.31 L505.5,1004.86 L506.5,1004.41 L507.5,1003.95 L508.5,1003.49 L509.5,1003.03 L510.5,1002.56 L511.5,1002.09 L512.5,1001.62 L513.5,1001.14 L514.5,1000.66 L515.5,1000.18 L516.5,999.69 L517.5,999.20 L518.5,998.70 L519.5,998.19 L520.5,997.68 L521.5,997.17 L522.5,996.64 L523.5,996.11 L524.5,995.57 L525.5,995.03 L526.5,994.47 L527.5,993.91 L528.5,993.33 L529.5,992.75 L530.5,992.16 L531.5,991.56 L532.5,990.94 L533.5,990.32 L534.5,989.68 L535.5,989.03 L536.5,988.37 L537.5,987.70 L538.5,987.01 L539.5,986.32 L540.5,985.62 L541.5,984.91 L542.5,984.19 L543.5,983.46 L544.5,982.72 L545.5,981.98 L546.5,981.23 L547.5,980.48 L548.5,979.72 L549.5,978.96 L550.5,978.19 L551.5,977.42 L552.5,976.64 L553.5,975.87 L554.5,975.08 L555.5,974.30 L556.5,973.51 L557.5,972.71 L558.5,971.91 L559.5,971.11 L560.5,970.30 L561.5,969.49 L562.5,968.68 L563.5,967.86 L564.5,967.03 L565.5,966.20 L566.5,965.37 L567.5,964.53 L568.5,963.69 L569.5,962.84 L570.5,961.99 L571.5,961.13 L572.5,960.27 L573.5,959.40 L574.5,958.53 L575.5,957.65 L576.5,956.77 L577.5,955.89 L578.5,954.99 L579.5,954.10 L580.5,953.20 L581.5,952.30 L582.5,951.39 L583.5,950.49 L584.5,949.58 L585.5,948.67 L586.5,947.76 L587.5,946.85 L588.5,945.94 L589.5,945.03 L590.5,944.12 L591.5,943.21 L592.5,942.30 L593.5,941.39 L594.5,940.48 L595.5,939.57 L596.5,938.66 L597.5,937.75 L598.5,936.83 L599.5,935.92 L600.5,935.00 L601.5,934.09 L602.5,933.17 L603.5,932.25 L604.5,931.32 L605.5,930.40 L606.5,929.48 L607.5,928.56 L608.5,927.63 L609.5,926.71 L610.5,925.79 L611.5,924.87 L612.5,923.95 L613.5,923.04 L614.5,922.12 L615.5,921.21 L616.5,920.30 L617.5,919.38 L618.5,918.48 L619.5,917.57 L620.5,916.67 L621.5,915.76 L622.5,914.86 L623.5,913.96 L624.5,913.06 L625.5,912.16 L626.5,911.27 L627.5,910.37 L628.5,909.48 L629.5,908.59 L630.5,907.70 L631.5,906.81 L632.5,905.92 L633.5,905.03 L634.5,904.14 L635.5,903.26 L636.5,902.37 L637.5,901.48 L638.5,900.59 L639.5,899.71 L640.5,898.82 L641.5,897.94 L642.5,897.05 L643.5,896.16 L644.5,895.28 L645.5,894.39 L646.5,893.51 L647.5,892.62 L648.5,891.74 L649.5,890.85 L650.5,889.97 L651.5,889.08 L652.5,888.20 L653.5,887.31 L654.5,886.43 L655.5,885.54 L656.5,884.66 L657.5,883.78 L658.5,882.89 L659.5,882.01 L660.5,881.12 L661.5,880.24 L662.5,879.35 L663.5,878.47 L664.5,877.58 L665.5,876.70 L666.5,875.81 L667.5,874.93 L668.5,874.04 L669.5,873.16 L670.5,872.27 L671.5,871.39 L672.5,870.50 L673.5,869.62 L674.5,868.74 L675.5,867.85 L676.5,866.97 L677.5,866.09 L678.5,865.21 L679.5,864.33 L680.5,863.45 L681.5,862.57 L682.5,861.69 L683.5,860.81 L684.5,859.93 L685.5,859.06 L686.5,858.18 L687.5,857.31 L688.5,856.44 L689.5,855.57 L690.5,854.70 L691.5,853.83 L692.5,852.96 L693.5,852.09 L694.5,851.23 L695.5,850.37 L696.5,849.51 L697.5,848.65 L698.5,847.79 L699.5,846.94 L700.5,846.08 L701.5,845.23 L702.5,844.39 L703.5,843.54 L704.5,842.70 L705.5,841.85 L706.5,841.02 L707.5,840.18 L708.5,839.35 L709.5,838.51 L710.5,837.69 L711.5,836.86 L712.5,836.04 L713.5,835.22 L714.5,834.40 L715.5,833.59 L716.5,832.78 L717.5,831.97 L718.5,831.17 L719.5,830.36 L720.5,829.57 L721.5,828.77 L722.5,827.98 L723.5,827.19 L724.5,826.41 L725.5,825.63 L726.5,824.85 L727.5,824.07 L728.5,823.30 L729.5,822.53 L730.5,821.77 L731.5,821.01 L732.5,820.25 L733.5,819.50 L734.5,818.75 L735.5,818.00 L736.5,817.26 L737.5,816.52 L738.5,815.78 L739.5,815.05 L740.5,814.32 L741.5,813.59 L742.5,812.87 L743.5,812.15 L744.5,811.44 L745.5,810.73 L746.5,810.02 L747.5,809.32 L748.5,808.62 L749.5,807.93 L750.5,807.24 L751.5,806.55 L752.5,805.87 L753.5,805.19 L754.5,804.52 L755.5,803.85 L756.5,803.19 L757.5,802.53 L758.5,801.88 L759.5,801.23 L760.5,800.58 L761.5,799.94 L762.5,799.30 L763.5,798.67 L764.5,798.05 L765.5,797.42 L766.5,796.80 L767.5,796.19 L768.5,795.58 L769.5,794.98 L770.5,794.38 L771.5,793.78 L772.5,793.19 L773.5,792.60 L774.5,792.02 L775.5,791.44 L776.5,790.86 L777.5,790.29 L778.5,789.73 L779.5,789.17 L780.5,788.61 L781.5,788.05 L782.5,787.51 L783.5,786.96 L784.5,786.42 L785.5,785.88 L786.5,785.35 L787.5,784.82 L788.5,784.29 L789.5,783.77 L790.5,783.24 L791.5,782.73 L792.5,782.21 L793.5,781.70 L794.5,781.18 L795.5,780.68 L796.5,780.17 L797.5,779.66 L798.5,779.16 L799.5,778.65 L800.5,778.15 L801.5,777.65 L802.5,777.15 L803.5,776.65 L804.5,776.15 L805.0,775.90" stroke="#0072BD"/>
<path d="M97.5,1309.16 L98.5,1307.53 L99.5,1305.91 L100.5,1304.32 L101.5,1302.76 L102.5,1301.24 L103.5,1299.76 L104.5,1298.33 L105.5,1296.95 L106.5,1295.62 L107.5,1294.34 L108.5,1293.11 L109.5,1291.93 L110.5,1290.79 L111.5,1289.69 L112.5,1288.64 L113.5,1287.62 L114.5,1286.64 L115.5,1285.69 L116.5,1284.78 L117.5,1283.89 L118.5,1283.03 L119.5,1282.20 L120.5,1281.39 L121.5,1280.61 L122.5,1279.84 L123.5,1279.09 L124.5,1278.35 L125.5,1277.62 L126.5,1276.91 L127.5,1276.21 L128.5,1275.51 L129.5,1274.82 L130.5,1274.14 L131.5,1273.46 L132.5,1272.79 L133.5,1272.12 L134.5,1271.46 L135.5,1270.79 L136.5,1270.13 L137.5,1269.47 L138.5,1268.80 L139.5,1268.14 L140.5,1267.47 L141.5,1266.80 L142.5,1266.12 L143.5,1265.44 L144.5,1264.76 L145.5,1264.08 L146.5,1263.40 L147.5,1262.71 L148.5,1262.02 L149.5,1261.33 L150.5,1260.63 L151.5,1259.93 L152.5,1259.23 L153.5,1258.53 L154.5,1257.83 L155.5,1257.13 L156.5,1256.42 L157.5,1255.71 L158.5,1255.00 L159.5,1254.29 L160.5,1253.58 L161.5,1252.87 L162.5,1252.16 L163.5,1251.45 L164.5,1250.74 L165.5,1250.03 L166.5,1249.32 L167.5,1248.61 L168.5,1247.90 L169.5,1247.20 L170.5,1246.49 L171.5,1245.79 L172.5,1245.09 L173.5,1244.39 L174.5,1243.69 L175.5,1243.00 L176.5,1242.30 L177.5,1241.61 L178.5,1240.92 L179.5,1240.24 L180.5,1239.55 L181.5,1238.87 L182.5,1238.19 L183.5,1237.51 L184.5,1236.84 L185.5,1236.17 L186.5,1235.50 L187.5,1234.84 L188.5,1234.17 L189.5,1233.52 L190.5,1232.86 L191.5,1232.21 L192.5,1231.56 L193.5,1230.92 L194.5,1230.27 L195.5,1229.64 L196.5,1229.00 L197.5,1228.37 L198.5,1227.75 L199.5,1227.12 L200.5,1226.51 L201.5,1225.89 L202.5,1225.28 L203.5,1224.68 L204.5,1224.08 L205.5,1223.48 L206.5,1222.88 L207.5,1222.29 L208.5,1221.70 L209.5,1221.11 L210.5,1220.53 L211.5,1219.94 L212.5,1219.36 L213.5,1218.77 L214.5,1218.19 L215.5,1217.60 L216.5,1217.02 L217.5,1216.43 L218.5,1215.84 L219.5,1215.25 L220.5,1214.66 L221.5,1214.06 L222.5,1213.47 L223.5,1212.88 L224.5,1212.28 L225.5,1211.69 L226.5,1211.09 L227.5,1210.50 L228.5,1209.91 L229.5,1209.31 L230.5,1208.73 L231.5,1208.14 L232.5,1207.56 L233.5,1206.98 L234.5,1206.40 L235.5,1205.83 L236.5,1205.26 L237.5,1204.70 L238.5,1204.14 L239.5,1203.58 L240.5,1203.03 L241.5,1202.48 L242.5,1201.93 L243.5,1201.38 L244.5,1200.83 L245.5,1200.28 L246.5,1199.73 L247.5,1199.17 L248.5,1198.62 L249.5,1198.06 L250.5,1197.49 L251.5,1196.92 L252.5,1196.35 L253.5,1195.77 L254.5,1195.18 L255.5,1194.59 L256.5,1193.99 L257.5,1193.38 L258.5,1192.77 L259.5,1192.14 L260.5,1191.52 L261.5,1190.88 L262.5,1190.24 L263.5,1189.59 L264.5,1188.94 L265.5,1188.27 L266.5,1187.60 L267.5,1186.93 L268.5,1186.24 L269.5,1185.55 L270.5,1184.85 L271.5,1184.15 L272.5,1183.43 L273.5,1182.71 L274.5,1181.99 L275.5,1181.26 L276.5,1180.52 L277.5,1179.78 L278.5,1179.03 L279.5,1178.28 L280.5,1177.53 L281.5,1176.77 L282.5,1176.02 L283.5,1175.26 L284.5,1174.49 L285.5,1173.73 L286.5,1172.97 L287.5,1172.20 L288.5,1171.44 L289.5,1170.67 L290.5,1169.91 L291.5,1169.15 L292.5,1168.39 L293.5,1167.63 L294.5,1166.87 L295.5,1166.12 L296.5,1165.36 L297.5,1164.61 L298.5,1163.85 L299.5,1163.10 L300.5,1162.35 L301.5,1161.59 L302.5,1160.84 L303.5,1160.09 L304.5,1159.34 L305.5,1158.60 L306.5,1157.85 L307.5,1157.10 L308.5,1156.35 L309.5,1155.60 L310.5,1154.86 L311.5,1154.11 L312.5,1153.37 L313.5,1152.62 L314.5,1151.88 L315.5,1151.13 L316.5,1150.39 L317.5,1149.65 L318.5,1148.90 L319.5,1148.16 L320.5,1147.42 L321.5,1146.68 L322.5,1145.95 L323.5,1145.21 L324.5,1144.48 L325.5,1143.74 L326.5,1143.01 L327.5,1142.28 L328.5,1141.55 L329.5,1140.82 L330.5,1140.10 L331.5,1139.37 L332.5,1138.65 L333.5,1137.93 L334.5,1137.21 L335.5,1136.50 L336.5,1135.78 L337.5,1135.07 L338.5,1134.36 L339.5,1133.65 L340.5,1132.94 L341.5,1132.23 L342.5,1131.52 L343.5,1130.81 L344.5,1130.11 L345.5,1129.40 L346.5,1128.69 L347.5,1127.99 L348.5,1127.28 L349.5,1126.57 L350.5,1125.86 L351.5,1125.16 L352.5,1124.45 L353.5,1123.74 L354.5,1123.02 L355.5,1122.31 L356.5,1121.60 L357.5,1120.88 L358.5,1120.16 L359.5,1119.44 L360.5,1118.72 L361.5,1117.99 L362.5,1117.27 L363.5,1116.54 L364.5,1115.81 L365.5,1115.07 L366.5,1114.34 L367.5,1113.60 L368.5,1112.86 L369.5,1112.12 L370.5,1111.37 L371.5,1110.63 L372.5,1109.88 L373.5,1109.13 L374.5,1108.38 L375.5,1107.62 L376.5,1106.86 L377.5,1106.10 L378.5,1105.34 L379.5,1104.58 L380.5,1103.81 L381.5,1103.04 L382.5,1102.27 L383.5,1101.50 L384.5,1100.73 L385.5,1099.95 L386.5,1099.17 L387.5,1098.39 L388.5,1097.60 L389.5,1096.81 L390.5,1096.02 L391.5,1095.23 L392.5,1094.43 L393.5,1093.64 L394.5,1092.84 L395.5,1092.03 L396.5,1091.23 L397.5,1090.42 L398.5,1089.61 L399.5,1088.79 L400.5,1087.97 L401.5,1087.15 L402.5,1086.33 L403.5,1085.50 L404.5,1084.67 L405.5,1083.84 L406.5,1083.00 L407.5,1082.16 L408.5,1081.32 L409.5,1080.47 L410.5,1079.62 L411.5,1078.77 L412.5,1077.91 L413.5,1077.06 L414.5,1076.19 L415.5,1075.33 L416.5,1074.47 L417.5,1073.60 L418.5,1072.73 L419.5,1071.86 L420.5,1070.98 L421.5,1070.11 L422.5,1069.23 L423.5,1068.35 L424.5,1067.47 L425.5,1066.59 L426.5,1065.72 L427.5,1064.84 L428.5,1063.96 L429.5,1063.09 L430.5,1062.21 L431.5,1061.34 L432.5,1060.47 L433.5,1059.61 L434.5,1058.75 L435.5,1057.89 L436.5,1057.04 L437.5,1056.19 L438.5,1055.34 L439.5,1054.50 L440.5,1053.67 L441.5,1052.84 L442.5,1052.02 L443.5,1051.20 L444.5,1050.40 L445.5,1049.60 L446.5,1048.81 L447.5,1048.02 L448.5,1047.25 L449.5,1046.49 L450.5,1045.74 L451.5,1045.00 L452.5,1044.27 L453.5,1043.55 L454.5,1042.85 L455.5,1042.16 L456.5,1041.48 L457.5,1040.82 L458.5,1040.17 L459.5,1039.54 L460.5,1038.93 L461.5,1038.33 L462.5,1037.74 L463.5,1037.17 L464.5,1036.62 L465.5,1036.08 L466.5,1035.55 L467.5,1035.03 L468.5,1034.53 L469.5,1034.04 L470.5,1033.56 L471.5,1033.09 L472.5,1032.63 L473.5,1032.18 L474.5,1031.74 L475.5,1031.31 L476.5,1030.89 L477.5,1030.47 L478.5,1030.06 L479.5,1029.66 L480.5,1029.26 L481.5,1028.87 L482.5,1028.48 L483.5,1028.10 L484.5,1027.72 L485.5,1027.35 L486.5,1026.98 L487.5,1026.61 L488.5,1026.24 L489.5,1025.87 L490.5,1025.51 L491.5,1025.14 L492.5,1024.78 L493.5,1024.41 L494.5,1024.05 L495.5,1023.68 L496.5,1023.31 L497.5,1022.94 L498.5,1022.58 L499.5,1022.20 L500.5,1021.83 L501.5,1021.46 L502.5,1021.08 L503.5,1020.70 L504.5,1020.31 L505.5,1019.92 L506.5,1019.53 L507.5,1019.14 L508.5,1018.74 L509.5,1018.33 L510.5,1017.93 L511.5,1017.51 L512.5,1017.09 L513.5,1016.67 L514.5,1016.24 L515.5,1015.80 L516.5,1015.36 L517.5,1014.92 L518.5,1014.47 L519.5,1014.02 L520.5,1013.56 L521.5,1013.10 L522.5,1012.63 L523.5,1012.16 L524.5,1011.69 L525.5,1011.22 L526.5,1010.74 L527.5,1010.26 L528.5,1009.78 L529.5,1009.30 L530.5,1008.81 L531.5,1008.33 L532.5,1007.84 L533.5,1007.35 L534.5,1006.86 L535.5,1006.36 L536.5,1005.87 L537.5,1005.38 L538.5,1004.88 L539.5,1004.38 L540.5,1003.87 L541.5,1003.36 L542.5,1002.85 L543.5,1002.33 L544.5,1001.80 L545.5,1001.26 L546.5,1000.72 L547.5,1000.16 L548.5,999.60 L549.5,999.03 L550.5,998.44 L551.5,997.84 L552.5,997.24 L553.5,996.62 L554.5,995.99 L555.5,995.36 L556.5,994.72 L557.5,994.07 L558.5,993.41 L559.5,992.75 L560.5,992.08 L561.5,991.41 L562.5,990.74 L563.5,990.06 L564.5,989.38 L565.5,988.70 L566.5,988.02 L567.5,987.33 L568.5,986.65 L569.5,985.96 L570.5,985.28 L571.5,984.59 L572.5,983.91 L573.5,983.23 L574.5,982.55 L575.5,981.87 L576.5,981.20 L577.5,980.53 L578.5,979.86 L579.5,979.19 L580.5,978.53 L581.5,977.86 L582.5,977.19 L583.5,976.52 L584.5,975.85 L585.5,975.17 L586.5,974.49 L587.5,973.80 L588.5,973.11 L589.5,972.41 L590.5,971.70 L591.5,970.99 L592.5,970.27 L593.5,969.55 L594.5,968.81 L595.5,968.08 L596.5,967.34 L597.5,966.60 L598.5,965.86 L599.5,965.11 L600.5,964.37 L601.5,963.62 L602.5,962.88 L603.5,962.14 L604.5,961.39 L605.5,960.65 L606.5,959.90 L607.5,959.15 L608.5,958.40 L609.5,957.65 L610.5,956.90 L611.5,956.14 L612.5,955.39 L613.5,954.63 L614.5,953.88 L615.5,953.12 L616.5,952.36 L617.5,951.61 L618.5,950.86 L619.5,950.11 L620.5,949.36 L621.5,948.61 L622.5,947.86 L623.5,947.12 L624.5,946.38 L625.5,945.64 L626.5,944.91 L627.5,944.18 L628.5,943.45 L629.5,942.72 L630.5,941.99 L631.5,941.27 L632.5,940.55 L633.5,939.83 L634.5,939.11 L635.5,938.40 L636.5,937.68 L637.5,936.97 L638.5,936.26 L639.5,935.55 L640.5,934.84 L641.5,934.13 L642.5,933.42 L643.5,932.71 L644.5,932.01 L645.5,931.31 L646.5,930.60 L647.5,929.90 L648.5,929.20 L649.5,928.50 L650.5,927.80 L651.5,927.10 L652.5,926.41 L653.5,925.71 L654.5,925.02 L655.5,924.32 L656.5,923.63 L657.5,922.94 L658.5,922.25 L659.5,921.56 L660.5,920.87 L661.5,920.18 L662.5,919.50 L663.5,918.81 L664.5,918.12 L665.5,917.43 L666.5,916.75 L667.5,916.06 L668.5,915.38 L669.5,914.69 L670.5,914.00 L671.5,913.32 L672.5,912.63 L673.5,911.95 L674.5,911.26 L675.5,910.57 L676.5,909.89 L677.5,909.20 L678.5,908.51 L679.5,907.82 L680.5,907.13 L681.5,906.44 L682.5,905.75 L683.5,905.06 L684.5,904.37 L685.5,903.67 L686.5,902.98 L687.5,902.29 L688.5,901.59 L689.5,900.90 L690.5,900.20 L691.5,899.50 L692.5,898.80 L693.5,898.10 L694.5,897.40 L695.5,896.70 L696.5,896.00 L697.5,895.30 L698.5,894.60 L699.5,893.89 L700.5,893.19 L701.5,892.48 L702.5,891.78 L703.5,891.07 L704.5,890.37 L705.5,889.66 L706.5,888.95 L707.5,888.24 L708.5,887.53 L709.5,886.82 L710.5,886.11 L711.5,885.39 L712.5,884.68 L713.5,883.97 L714.5,883.25 L715.5,882.54 L716.5,881.82 L717.5,881.10 L718.5,880.39 L719.5,879.67 L720.5,878.95 L721.5,878.23 L722.5,877.52 L723.5,876.80 L724.5,876.08 L725.5,875.36 L726.5,874.64 L727.5,873.93 L728.5,873.21 L729.5,872.49 L730.5,871.78 L731.5,871.06 L732.5,870.35 L733.5,869.64 L734.5,868.92 L735.5,868.21 L736.5,867.50 L737.5,866.80 L738.5,866.09 L739.5,865.38 L740.5,864.68 L741.5,863.98 L742.5,863.27 L743.5,862.57 L744.5,861.88 L745.5,861.18 L746.5,860.48 L747.5,859.79 L748.5,859.09 L749.5,858.40 L750.5,857.71 L751.5,857.01 L752.5,856.32 L753.5,855.63 L754.5,854.94 L755.5,854.26 L756.5,853.57 L757.5,852.88 L758.5,852.20 L759.5,851.51 L760.5,850.83 L761.5,850.15 L762.5,849.47 L763.5,848.79 L764.5,848.12 L765.5,847.44 L766.5,846.76 L767.5,846.09 L768.5,845.42 L769.5,844.74 L770.5,844.07 L771.5,843.40 L772.5,842.73 L773.5,842.06 L774.5,841.39 L775.5,840.72 L776.5,840.06 L777.5,839.39 L778.5,838.72 L779.5,838.05 L780.5,837.38 L781.5,836.72 L782.5,836.05 L783.5,835.38 L784.5,834.71 L785.5,834.05 L786.5,833.38 L787.5,832.71 L788.5,832.04 L789.5,831.37 L790.5,830.71 L791.5,830.04 L792.5,829.37 L793.5,828.70 L794.5,828.03 L795.5,827.36 L796.5,826.69 L797.5,826.03 L798.5,825.36 L799.5,824.69 L800.5,824.02 L801.5,823.35 L802.5,822.68 L803.5,822.01 L804.5,821.34 L805.0,821.01" stroke="#D95319"/>
<path d="M97.5,1309.16 L98.5,1307.58 L99.5,1306.02 L100.5,1304.48 L101.5,1302.97 L102.5,1301.50 L103.5,1300.08 L104.5,1298.69 L105.5,1297.36 L106.5,1296.08 L107.5,1294.85 L108.5,1293.67 L109.5,1292.54 L110.5,1291.45 L111.5,1290.41 L112.5,1289.41 L113.5,1288.44 L114.5,1287.52 L115.5,1286.63 L116.5,1285.77 L117.5,1284.95 L118.5,1284.15 L119.5,1283.38 L120.5,1282.65 L121.5,1281.93 L122.5,1281.24 L123.5,1280.57 L124.5,1279.91 L125.5,1279.28 L126.5,1278.66 L127.5,1278.06 L128.5,1277.46 L129.5,1276.89 L130.5,1276.32 L131.5,1275.76 L132.5,1275.21 L133.5,1274.67 L134.5,1274.14 L135.5,1273.61 L136.5,1273.10 L137.5,1272.58 L138.5,1272.07 L139.5,1271.56 L140.5,1271.06 L141.5,1270.55 L142.5,1270.05 L143.5,1269.54 L144.5,1269.04 L145.5,1268.53 L146.5,1268.02 L147.5,1267.50 L148.5,1266.98 L149.5,1266.46 L150.5,1265.93 L151.5,1265.39 L152.5,1264.85 L153.5,1264.30 L154.5,1263.74 L155.5,1263.18 L156.5,1262.61 L157.5,1262.03 L158.5,1261.44 L159.5,1260.84 L160.5,1260.23 L161.5,1259.62 L162.5,1258.99 L163.5,1258.36 L164.5,1257.72 L165.5,1257.07 L166.5,1256.42 L167.5,1255.76 L168.5,1255.10 L169.5,1254.43 L170.5,1253.75 L171.5,1253.08 L172.5,1252.39 L173.5,1251.70 L174.5,1251.01 L175.5,1250.32 L176.5,1249.62 L177.5,1248.92 L178.5,1248.21 L179.5,1247.51 L180.5,1246.80 L181.5,1246.09 L182.5,1245.38 L183.5,1244.67 L184.5,1243.96 L185.5,1243.24 L186.5,1242.53 L187.5,1241.82 L188.5,1241.11 L189.5,1240.40 L190.5,1239.70 L191.5,1239.00 L192.5,1238.30 L193.5,1237.60 L194.5,1236.91 L195.5,1236.22 L196.5,1235.54 L197.5,1234.87 L198.5,1234.20 L199.5,1233.54 L200.5,1232.88 L201.5,1232.23 L202.5,1231.59 L203.5,1230.96 L204.5,1230.34 L205.5,1229.72 L206.5,1229.11 L207.5,1228.51 L208.5,1227.92 L209.5,1227.33 L210.5,1226.74 L211.5,1226.16 L212.5,1225.59 L213.5,1225.02 L214.5,1224.46 L215.5,1223.89 L216.5,1223.34 L217.5,1222.78 L218.5,1222.23 L219.5,1221.68 L220.5,1221.14 L221.5,1220.59 L222.5,1220.05 L223.5,1219.51 L224.5,1218.98 L225.5,1218.44 L226.5,1217.91 L227.5,1217.37 L228.5,1216.84 L229.5,1216.31 L230.5,1215.79 L231.5,1215.26 L232.5,1214.73 L233.5,1214.21 L234.5,1213.69 L235.5,1213.16 L236.5,1212.64 L237.5,1212.12 L238.5,1211.60 L239.5,1211.07 L240.5,1210.55 L241.5,1210.03 L242.5,1209.50 L243.5,1208.97 L244.5,1208.44 L245.5,1207.91 L246.5,1207.37 L247.5,1206.83 L248.5,1206.29 L249.5,1205.74 L250.5,1205.18 L251.5,1204.62 L252.5,1204.05 L253.5,1203.48 L254.5,1202.90 L255.5,1202.32 L256.5,1201.72 L257.5,1201.12 L258.5,1200.52 L259.5,1199.91 L260.5,1199.30 L261.5,1198.68 L262.5,1198.06 L263.5,1197.43 L264.5,1196.80 L265.5,1196.17 L266.5,1195.53 L267.5,1194.90 L268.5,1194.26 L269.5,1193.61 L270.5,1192.97 L271.5,1192.33 L272.5,1191.68 L273.5,1191.04 L274.5,1190.39 L275.5,1189.74 L276.5,1189.10 L277.5,1188.45 L278.5,1187.81 L279.5,1187.16 L280.5,1186.52 L281.5,1185.88 L282.5,1185.24 L283.5,1184.60 L284.5,1183.97 L285.5,1183.34 L286.5,1182.71 L287.5,1182.08 L288.5,1181.46 L289.5,1180.84 L290.5,1180.22 L291.5,1179.61 L292.5,1179.01 L293.5,1178.40 L294.5,1177.80 L295.5,1177.21 L296.5,1176.61 L297.5,1176.02 L298.5,1175.44 L299.5,1174.85 L300.5,1174.27 L301.5,1173.69 L302.5,1173.12 L303.5,1172.54 L304.5,1171.97 L305.5,1171.41 L306.5,1170.84 L307.5,1170.28 L308.5,1169.71 L309.5,1169.15 L310.5,1168.59 L311.5,1168.04 L312.5,1167.48 L313.5,1166.93 L314.5,1166.37 L315.5,1165.82 L316.5,1165.27 L317.5,1164.72 L318.5,1164.17 L319.5,1163.63 L320.5,1163.08 L321.5,1162.53 L322.5,1161.99 L323.5,1161.45 L324.5,1160.90 L325.5,1160.36 L326.5,1159.82 L327.5,1159.27 L328.5,1158.73 L329.5,1158.19 L330.5,1157.65 L331.5,1157.10 L332.5,1156.56 L333.5,1156.02 L334.5,1155.48 L335.5,1154.93 L336.5,1154.39 L337.5,1153.85 L338.5,1153.30 L339.5,1152.76 L340.5,1152.21 L341.5,1151.67 L342.5,1151.12 L343.5,1150.57 L344.5,1150.02 L345.5,1149.47 L346.5,1148.92 L347.5,1148.37 L348.5,1147.81 L349.5,1147.26 L350.5,1146.70 L351.5,1146.14 L352.5,1145.58 L353.5,1145.02 L354.5,1144.45 L355.5,1143.89 L356.5,1143.32 L357.5,1142.75 L358.5,1142.18 L359.5,1141.60 L360.5,1141.03 L361.5,1140.45 L362.5,1139.87 L363.5,1139.28 L364.5,1138.70 L365.5,1138.11 L366.5,1137.53 L367.5,1136.94 L368.5,1136.35 L369.5,1135.76 L370.5,1135.16 L371.5,1134.57 L372.5,1133.98 L373.5,1133.38 L374.5,1132.78 L375.5,1132.19 L376.5,1131.59 L377.5,1130.99 L378.5,1130.39 L379.5,1129.79 L380.5,1129.20 L381.5,1128.60 L382.5,1128.00 L383.5,1127.40 L384.5,1126.80 L385.5,1126.20 L386.5,1125.60 L387.5,1125.00 L388.5,1124.40 L389.5,1123.80 L390.5,1123.20 L391.5,1122.59 L392.5,1121.98 L393.5,1121.38 L394.5,1120.77 L395.5,1120.15 L396.5,1119.54 L397.5,1118.92 L398.5,1118.30 L399.5,1117.68 L400.5,1117.05 L401.5,1116.42 L402.5,1115.79 L403.5,1115.15 L404.5,1114.51 L405.5,1113.86 L406.5,1113.21 L407.5,1112.56 L408.5,1111.90 L409.5,1111.23 L410.5,1110.57 L411.5,1109.90 L412.5,1109.22 L413.5,1108.54 L414.5,1107.86 L415.5,1107.18 L416.5,1106.50 L417.5,1105.82 L418.5,1105.13 L419.5,1104.44 L420.5,1103.76 L421.5,1103.07 L422.5,1102.39 L423.5,1101.70 L424.5,1101.01 L425.5,1100.33 L426.5,1099.64 L427.5,1098.95 L428.5,1098.26 L429.5,1097.57 L430.5,1096.88 L431.5,1096.18 L432.5,1095.49 L433.5,1094.79 L434.5,1094.10 L435.5,1093.40 L436.5,1092.69 L437.5,1091.99 L438.5,1091.29 L439.5,1090.58 L440.5,1089.87 L441.5,1089.15 L442.5,1088.44 L443.5,1087.72 L444.5,1087.00 L445.5,1086.28 L446.5,1085.56 L447.5,1084.84 L448.5,1084.11 L449.5,1083.38 L450.5,1082.66 L451.5,1081.93 L452.5,1081.20 L453.5,1080.47 L454.5,1079.74 L455.5,1079.01 L456.5,1078.29 L457.5,1077.56 L458.5,1076.83 L459.5,1076.10 L460.5,1075.38 L461.5,1074.65 L462.5,1073.92 L463.5,1073.20 L464.5,1072.47 L465.5,1071.74 L466.5,1071.01 L467.5,1070.28 L468.5,1069.54 L469.5,1068.80 L470.5,1068.05 L471.5,1067.30 L472.5,1066.54 L473.5,1065.78 L474.5,1065.01 L475.5,1064.24 L476.5,1063.45 L477.5,1062.66 L478.5,1061.86 L479.5,1061.05 L480.5,1060.23 L481.5,1059.41 L482.5,1058.58 L483.5,1057.75 L484.5,1056.92 L485.5,1056.08 L486.5,1055.25 L487.5,1054.41 L488.5,1053.58 L489.5,1052.74 L490.5,1051.91 L491.5,1051.09 L492.5,1050.27 L493.5,1049.45 L494.5,1048.65 L495.5,1047.85 L496.5,1047.06 L497.5,1046.28 L498.5,1045.52 L499.5,1044.76 L500.5,1044.02 L501.5,1043.30 L502.5,1042.59 L503.5,1041.90 L504.5,1041.22 L505.5,1040.55 L506.5,1039.90 L507.5,1039.27 L508.5,1038.65 L509.5,1038.05 L510.5,1037.46 L511.5,1036.89 L512.5,1036.33 L513.5,1035.79 L514.5,1035.26 L515.5,1034.75 L516.5,1034.25 L517.5,1033.75 L518.5,1033.27 L519.5,1032.80 L520.5,1032.34 L521.5,1031.88 L522.5,1031.43 L523.5,1030.98 L524.5,1030.54 L525.5,1030.10 L526.5,1029.66 L527.5,1029.23 L528.5,1028.79 L529.5,1028.36 L530.5,1027.92 L531.5,1027.48 L532.5,1027.03 L533.5,1026.59 L534.5,1026.13 L535.5,1025.67 L536.5,1025.20 L537.5,1024.73 L538.5,1024.25 L539.5,1023.76 L540.5,1023.27 L541.5,1022.78 L542.5,1022.28 L543.5,1021.78 L544.5,1021.27 L545.5,1020.77 L546.5,1020.26 L547.5,1019.74 L548.5,1019.23 L549.5,1018.71 L550.5,1018.20 L551.5,1017.68 L552.5,1017.17 L553.5,1016.65 L554.5,1016.14 L555.5,1015.62 L556.5,1015.11 L557.5,1014.60 L558.5,1014.08 L559.5,1013.57 L560.5,1013.06 L561.5,1012.55 L562.5,1012.04 L563.5,1011.54 L564.5,1011.03 L565.5,1010.52 L566.5,1010.01 L567.5,1009.50 L568.5,1008.99 L569.5,1008.48 L570.5,1007.97 L571.5,1007.45 L572.5,1006.93 L573.5,1006.41 L574.5,1005.88 L575.5,1005.35 L576.5,1004.82 L577.5,1004.28 L578.5,1003.74 L579.5,1003.19 L580.5,1002.64 L581.5,1002.08 L582.5,1001.52 L583.5,1000.96 L584.5,1000.39 L585.5,999.82 L586.5,999.25 L587.5,998.67 L588.5,998.08 L589.5,997.50 L590.5,996.91 L591.5,996.31 L592.5,995.71 L593.5,995.11 L594.5,994.51 L595.5,993.90 L596.5,993.28 L597.5,992.67 L598.5,992.05 L599.5,991.42 L600.5,990.79 L601.5,990.16 L602.5,989.53 L603.5,988.89 L604.5,988.25 L605.5,987.60 L606.5,986.95 L607.5,986.30 L608.5,985.64 L609.5,984.97 L610.5,984.31 L611.5,983.64 L612.5,982.97 L613.5,982.29 L614.5,981.62 L615.5,980.95 L616.5,980.28 L617.5,979.60 L618.5,978.94 L619.5,978.27 L620.5,977.61 L621.5,976.95 L622.5,976.29 L623.5,975.64 L624.5,974.99 L625.5,974.34 L626.5,973.70 L627.5,973.07 L628.5,972.43 L629.5,971.80 L630.5,971.18 L631.5,970.56 L632.5,969.94 L633.5,969.32 L634.5,968.71 L635.5,968.10 L636.5,967.49 L637.5,966.89 L638.5,966.28 L639.5,965.68 L640.5,965.08 L641.5,964.48 L642.5,963.88 L643.5,963.29 L644.5,962.69 L645.5,962.10 L646.5,961.51 L647.5,960.92 L648.5,960.33 L649.5,959.75 L650.5,959.17 L651.5,958.58 L652.5,958.00 L653.5,957.43 L654.5,956.85 L655.5,956.28 L656.5,955.70 L657.5,955.13 L658.5,954.56 L659.5,953.99 L660.5,953.43 L661.5,952.86 L662.5,952.29 L663.5,951.73 L664.5,951.17 L665.5,950.60 L666.5,950.04 L667.5,949.48 L668.5,948.91 L669.5,948.35 L670.5,947.79 L671.5,947.23 L672.5,946.67 L673.5,946.10 L674.5,945.54 L675.5,944.98 L676.5,944.41 L677.5,943.85 L678.5,943.28 L679.5,942.71 L680.5,942.14 L681.5,941.57 L682.5,941.00 L683.5,940.43 L684.5,939.86 L685.5,939.28 L686.5,938.70 L687.5,938.13 L688.5,937.55 L689.5,936.97 L690.5,936.38 L691.5,935.80 L692.5,935.22 L693.5,934.63 L694.5,934.04 L695.5,933.46 L696.5,932.87 L697.5,932.27 L698.5,931.68 L699.5,931.09 L700.5,930.49 L701.5,929.90 L702.5,929.30 L703.5,928.70 L704.5,928.10 L705.5,927.50 L706.5,926.90 L707.5,926.30 L708.5,925.70 L709.5,925.09 L710.5,924.49 L711.5,923.88 L712.5,923.27 L713.5,922.66 L714.5,922.05 L715.5,921.44 L716.5,920.83 L717.5,920.22 L718.5,919.60 L719.5,918.99 L720.5,918.38 L721.5,917.76 L722.5,917.14 L723.5,916.53 L724.5,915.91 L725.5,915.29 L726.5,914.67 L727.5,914.05 L728.5,913.43 L729.5,912.80 L730.5,912.18 L731.5,911.56 L732.5,910.93 L733.5,910.31 L734.5,909.68 L735.5,909.06 L736.5,908.43 L737.5,907.80 L738.5,907.17 L739.5,906.55 L740.5,905.92 L741.5,905.29 L742.5,904.66 L743.5,904.03 L744.5,903.40 L745.5,902.76 L746.5,902.13 L747.5,901.50 L748.5,900.87 L749.5,900.23 L750.5,899.60 L751.5,898.96 L752.5,898.32 L753.5,897.69 L754.5,897.05 L755.5,896.41 L756.5,895.77 L757.5,895.13 L758.5,894.50 L759.5,893.86 L760.5,893.22 L761.5,892.58 L762.5,891.94 L763.5,891.30 L764.5,890.66 L765.5,890.02 L766.5,889.38 L767.5,888.74 L768.5,888.10 L769.5,887.46 L770.5,886.82 L771.5,886.18 L772.5,885.54 L773.5,884.90 L774.5,884.26 L775.5,883.62 L776.5,882.98 L777.5,882.34 L778.5,881.70 L779.5,881.06 L780.5,880.42 L781.5,879.78 L782.5,879.13 L783.5,878.49 L784.5,877.85 L785.5,877.21 L786.5,876.57 L787.5,875.93 L788.5,875.29 L789.5,874.65 L790.5,874.01 L791.5,873.36 L792.5,872.72 L793.5,872.08 L794.5,871.44 L795.5,870.80 L796.5,870.16 L797.5,869.52 L798.5,868.87 L799.5,868.23 L800.5,867.59 L801.5,866.95 L802.5,866.31 L803.5,865.67 L804.5,865.02 L805.0,864.70" stroke="#EDB120"/>
<path d="M97.5,1309.16 L98.5,1307.63 L99.5,1306.10 L100.5,1304.60 L101.5,1303.13 L102.5,1301.70 L103.5,1300.31 L104.5,1298.96 L105.5,1297.66 L106.5,1296.41 L107.5,1295.21 L108.5,1294.06 L109.5,1292.96 L110.5,1291.90 L111.5,1290.89 L112.5,1289.91 L113.5,1288.98 L114.5,1288.08 L115.5,1287.22 L116.5,1286.39 L117.5,1285.60 L118.5,1284.84 L119.5,1284.11 L120.5,1283.40 L121.5,1282.72 L122.5,1282.07 L123.5,1281.44 L124.5,1280.83 L125.5,1280.23 L126.5,1279.66 L127.5,1279.10 L128.5,1278.55 L129.5,1278.02 L130.5,1277.50 L131.5,1277.00 L132.5,1276.50 L133.5,1276.02 L134.5,1275.55 L135.5,1275.08 L136.5,1274.63 L137.5,1274.18 L138.5,1273.74 L139.5,1273.30 L140.5,1272.87 L141.5,1272.45 L142.5,1272.02 L143.5,1271.60 L144.5,1271.18 L145.5,1270.76 L146.5,1270.34 L147.5,1269.92 L148.5,1269.50 L149.5,1269.08 L150.5,1268.65 L151.5,1268.22 L152.5,1267.79 L153.5,1267.35 L154.5,1266.90 L155.5,1266.45 L156.5,1266.00 L157.5,1265.53 L158.5,1265.06 L159.5,1264.59 L160.5,1264.10 L161.5,1263.61 L162.5,1263.11 L163.5,1262.60 L164.5,1262.08 L165.5,1261.56 L166.5,1261.02 L167.5,1260.48 L168.5,1259.93 L169.5,1259.37 L170.5,1258.80 L171.5,1258.22 L172.5,1257.64 L173.5,1257.05 L174.5,1256.45 L175.5,1255.84 L176.5,1255.23 L177.5,1254.61 L178.5,1253.98 L179.5,1253.34 L180.5,1252.70 L181.5,1252.05 L182.5,1251.40 L183.5,1250.73 L184.5,1250.06 L185.5,1249.39 L186.5,1248.71 L187.5,1248.03 L188.5,1247.34 L189.5,1246.64 L190.5,1245.95 L191.5,1245.26 L192.5,1244.56 L193.5,1243.87 L194.5,1243.17 L195.5,1242.48 L196.5,1241.80 L197.5,1241.12 L198.5,1240.44 L199.5,1239.77 L200.5,1239.11 L201.5,1238.45 L202.5,1237.80 L203.5,1237.17 L204.5,1236.54 L205.5,1235.92 L206.5,1235.31 L207.5,1234.70 L208.5,1234.10 L209.5,1233.52 L210.5,1232.93 L211.5,1232.36 L212.5,1231.79 L213.5,1231.22 L214.5,1230.67 L215.5,1230.11 L216.5,1229.57 L217.5,1229.03 L218.5,1228.49 L219.5,1227.96 L220.5,1227.43 L221.5,1226.90 L222.5,1226.38 L223.5,1225.86 L224.5,1225.34 L225.5,1224.83 L226.5,1224.31 L227.5,1223.80 L228.5,1223.28 L229.5,1222.77 L230.5,1222.25 L231.5,1221.74 L232.5,1221.22 L233.5,1220.70 L234.5,1220.17 L235.5,1219.65 L236.5,1219.11 L237.5,1218.58 L238.5,1218.04 L239.5,1217.50 L240.5,1216.95 L241.5,1216.40 L242.5,1215.84 L243.5,1215.28 L244.5,1214.71 L245.5,1214.14 L246.5,1213.56 L247.5,1212.98 L248.5,1212.39 L249.5,1211.80 L250.5,1211.20 L251.5,1210.60 L252.5,1209.99 L253.5,1209.37 L254.5,1208.75 L255.5,1208.12 L256.5,1207.49 L257.5,1206.86 L258.5,1206.22 L259.5,1205.58 L260.5,1204.94 L261.5,1204.30 L262.5,1203.66 L263.5,1203.02 L264.5,1202.39 L265.5,1201.76 L266.5,1201.13 L267.5,1200.51 L268.5,1199.89 L269.5,1199.28 L270.5,1198.68 L271.5,1198.08 L272.5,1197.49 L273.5,1196.92 L274.5,1196.35 L275.5,1195.78 L276.5,1195.23 L277.5,1194.68 L278.5,1194.13 L279.5,1193.60 L280.5,1193.07 L281.5,1192.54 L282.5,1192.03 L283.5,1191.51 L284.5,1191.01 L285.5,1190.50 L286.5,1190.01 L287.5,1189.51 L288.5,1189.02 L289.5,1188.54 L290.5,1188.05 L291.5,1187.58 L292.5,1187.10 L293.5,1186.63 L294.5,1186.16 L295.5,1185.69 L296.5,1185.23 L297.5,1184.77 L298.5,1184.31 L299.5,1183.86 L300.5,1183.41 L301.5,1182.96 L302.5,1182.51 L303.5,1182.07 L304.5,1181.63 L305.5,1181.19 L306.5,1180.75 L307.5,1180.32 L308.5,1179.88 L309.5,1179.45 L310.5,1179.02 L311.5,1178.60 L312.5,1178.17 L313.5,1177.75 L314.5,1177.32 L315.5,1176.90 L316.5,1176.48 L317.5,1176.06 L318.5,1175.64 L319.5,1175.22 L320.5,1174.80 L321.5,1174.39 L322.5,1173.97 L323.5,1173.55 L324.5,1173.13 L325.5,1172.71 L326.5,1172.29 L327.5,1171.87 L328.5,1171.45 L329.5,1171.03 L330.5,1170.61 L331.5,1170.19 L332.5,1169.76 L333.5,1169.34 L334.5,1168.91 L335.5,1168.48 L336.5,1168.05 L337.5,1167.61 L338.5,1167.18 L339.5,1166.75 L340.5,1166.31 L341.5,1165.87 L342.5,1165.43 L343.5,1164.99 L344.5,1164.55 L345.5,1164.11 L346.5,1163.67 L347.5,1163.22 L348.5,1162.78 L349.5,1162.33 L350.5,1161.89 L351.5,1161.44 L352.5,1161.00 L353.5,1160.55 L354.5,1160.10 L355.5,1159.66 L356.5,1159.21 L357.5,1158.76 L358.5,1158.32 L359.5,1157.87 L360.5,1157.42 L361.5,1156.98 L362.5,1156.53 L363.5,1156.08 L364.5,1155.64 L365.5,1155.19 L366.5,1154.74 L367.5,1154.29 L368.5,1153.84 L369.5,1153.39 L370.5,1152.94 L371.5,1152.49 L372.5,1152.04 L373.5,1151.58 L374.5,1151.13 L375.5,1150.67 L376.5,1150.21 L377.5,1149.75 L378.5,1149.29 L379.5,1148.82 L380.5,1148.36 L381.5,1147.89 L382.5,1147.42 L383.5,1146.95 L384.5,1146.47 L385.5,1146.00 L386.5,1145.52 L387.5,1145.03 L388.5,1144.55 L389.5,1144.06 L390.5,1143.57 L391.5,1143.07 L392.5,1142.58 L393.5,1142.07 L394.5,1141.57 L395.5,1141.06 L396.5,1140.54 L397.5,1140.03 L398.5,1139.50 L399.5,1138.98 L400.5,1138.45 L401.5,1137.91 L402.5,1137.37 L403.5,1136.82 L404.5,1136.27 L405.5,1135.72 L406.5,1135.16 L407.5,1134.59 L408.5,1134.02 L409.5,1133.44 L410.5,1132.86 L411.5,1132.27 L412.5,1131.68 L413.5,1131.08 L414.5,1130.49 L415.5,1129.89 L416.5,1129.29 L417.5,1128.68 L418.5,1128.08 L419.5,1127.47 L420.5,1126.87 L421.5,1126.26 L422.5,1125.65 L423.5,1125.04 L424.5,1124.44 L425.5,1123.83 L426.5,1123.22 L427.5,1122.60 L428.5,1121.99 L429.5,1121.37 L430.5,1120.76 L431.5,1120.14 L432.5,1119.51 L433.5,1118.89 L434.5,1118.26 L435.5,1117.63 L436.5,1117.00 L437.5,1116.36 L438.5,1115.72 L439.5,1115.08 L440.5,1114.43 L441.5,1113.78 L442.5,1113.12 L443.5,1112.46 L444.5,1111.80 L445.5,1111.14 L446.5,1110.47 L447.5,1109.80 L448.5,1109.13 L449.5,1108.45 L450.5,1107.78 L451.5,1107.10 L452.5,1106.42 L453.5,1105.74 L454.5,1105.06 L455.5,1104.38 L456.5,1103.69 L457.5,1103.01 L458.5,1102.33 L459.5,1101.65 L460.5,1100.96 L461.5,1100.28 L462.5,1099.60 L463.5,1098.92 L464.5,1098.23 L465.5,1097.55 L466.5,1096.87 L467.5,1096.18 L468.5,1095.49 L469.5,1094.80 L470.5,1094.11 L471.5,1093.42 L472.5,1092.72 L473.5,1092.02 L474.5,1091.32 L475.5,1090.61 L476.5,1089.90 L477.5,1089.18 L478.5,1088.46 L479.5,1087.74 L480.5,1087.01 L481.5,1086.28 L482.5,1085.54 L483.5,1084.79 L484.5,1084.04 L485.5,1083.28 L486.5,1082.51 L487.5,1081.74 L488.5,1080.96 L489.5,1080.17 L490.5,1079.38 L491.5,1078.57 L492.5,1077.76 L493.5,1076.95 L494.5,1076.12 L495.5,1075.29 L496.5,1074.45 L497.5,1073.60 L498.5,1072.75 L499.5,1071.89 L500.5,1071.03 L501.5,1070.15 L502.5,1069.27 L503.5,1068.39 L504.5,1067.50 L505.5,1066.60 L506.5,1065.69 L507.5,1064.78 L508.5,1063.87 L509.5,1062.95 L510.5,1062.02 L511.5,1061.09 L512.5,1060.15 L513.5,1059.21 L514.5,1058.26 L515.5,1057.31 L516.5,1056.36 L517.5,1055.42 L518.5,1054.47 L519.5,1053.52 L520.5,1052.58 L521.5,1051.65 L522.5,1050.72 L523.5,1049.80 L524.5,1048.88 L525.5,1047.98 L526.5,1047.09 L527.5,1046.21 L528.5,1045.35 L529.5,1044.49 L530.5,1043.66 L531.5,1042.84 L532.5,1042.04 L533.5,1041.25 L534.5,1040.49 L535.5,1039.75 L536.5,1039.03 L537.5,1038.32 L538.5,1037.64 L539.5,1036.99 L540.5,1036.35 L541.5,1035.73 L542.5,1035.13 L543.5,1034.55 L544.5,1033.99 L545.5,1033.45 L546.5,1032.93 L547.5,1032.42 L548.5,1031.94 L549.5,1031.47 L550.5,1031.01 L551.5,1030.58 L552.5,1030.15 L553.5,1029.74 L554.5,1029.34 L555.5,1028.95 L556.5,1028.56 L557.5,1028.19 L558.5,1027.83 L559.5,1027.47 L560.5,1027.11 L561.5,1026.76 L562.5,1026.42 L563.5,1026.08 L564.5,1025.74 L565.5,1025.40 L566.5,1025.07 L567.5,1024.73 L568.5,1024.39 L569.5,1024.06 L570.5,1023.72 L571.5,1023.38 L572.5,1023.04 L573.5,1022.69 L574.5,1022.34 L575.5,1021.99 L576.5,1021.63 L577.5,1021.26 L578.5,1020.89 L579.5,1020.51 L580.5,1020.13 L581.5,1019.74 L582.5,1019.35 L583.5,1018.95 L584.5,1018.54 L585.5,1018.12 L586.5,1017.70 L587.5,1017.28 L588.5,1016.84 L589.5,1016.40 L590.5,1015.96 L591.5,1015.50 L592.5,1015.04 L593.5,1014.58 L594.5,1014.11 L595.5,1013.64 L596.5,1013.16 L597.5,1012.68 L598.5,1012.19 L599.5,1011.70 L600.5,1011.21 L601.5,1010.72 L602.5,1010.23 L603.5,1009.73 L604.5,1009.24 L605.5,1008.74 L606.5,1008.24 L607.5,1007.74 L608.5,1007.24 L609.5,1006.74 L610.5,1006.24 L611.5,1005.74 L612.5,1005.23 L613.5,1004.73 L614.5,1004.22 L615.5,1003.72 L616.5,1003.22 L617.5,1002.71 L618.5,1002.20 L619.5,1001.70 L620.5,1001.19 L621.5,1000.69 L622.5,1000.18 L623.5,999.67 L624.5,999.16 L625.5,998.66 L626.5,998.15 L627.5,997.64 L628.5,997.13 L629.5,996.62 L630.5,996.11 L631.5,995.61 L632.5,995.10 L633.5,994.59 L634.5,994.08 L635.5,993.57 L636.5,993.06 L637.5,992.56 L638.5,992.05 L639.5,991.54 L640.5,991.03 L641.5,990.53 L642.5,990.02 L643.5,989.51 L644.5,989.01 L645.5,988.50 L646.5,988.00 L647.5,987.49 L648.5,986.99 L649.5,986.48 L650.5,985.98 L651.5,985.48 L652.5,984.97 L653.5,984.47 L654.5,983.97 L655.5,983.47 L656.5,982.97 L657.5,982.47 L658.5,981.97 L659.5,981.48 L660.5,980.98 L661.5,980.48 L662.5,979.98 L663.5,979.48 L664.5,978.99 L665.5,978.49 L666.5,977.99 L667.5,977.49 L668.5,976.99 L669.5,976.50 L670.5,976.00 L671.5,975.50 L672.5,975.00 L673.5,974.50 L674.5,974.00 L675.5,973.49 L676.5,972.99 L677.5,972.49 L678.5,971.98 L679.5,971.48 L680.5,970.97 L681.5,970.46 L682.5,969.96 L683.5,969.45 L684.5,968.94 L685.5,968.42 L686.5,967.91 L687.5,967.40 L688.5,966.88 L689.5,966.37 L690.5,965.85 L691.5,965.33 L692.5,964.82 L693.5,964.30 L694.5,963.78 L695.5,963.26 L696.5,962.74 L697.5,962.21 L698.5,961.69 L699.5,961.16 L700.5,960.64 L701.5,960.11 L702.5,959.59 L703.5,959.06 L704.5,958.53 L705.5,958.00 L706.5,957.47 L707.5,956.94 L708.5,956.40 L709.5,955.87 L710.5,955.34 L711.5,954.80 L712.5,954.26 L713.5,953.73 L714.5,953.19 L715.5,952.65 L716.5,952.11 L717.5,951.57 L718.5,951.02 L719.5,950.48 L720.5,949.94 L721.5,949.39 L722.5,948.85 L723.5,948.30 L724.5,947.75 L725.5,947.20 L726.5,946.65 L727.5,946.10 L728.5,945.55 L729.5,945.00 L730.5,944.45 L731.5,943.89 L732.5,943.34 L733.5,942.78 L734.5,942.22 L735.5,941.67 L736.5,941.11 L737.5,940.55 L738.5,939.99 L739.5,939.42 L740.5,938.86 L741.5,938.30 L742.5,937.73 L743.5,937.17 L744.5,936.60 L745.5,936.03 L746.5,935.46 L747.5,934.89 L748.5,934.32 L749.5,933.75 L750.5,933.18 L751.5,932.61 L752.5,932.03 L753.5,931.46 L754.5,930.88 L755.5,930.30 L756.5,929.73 L757.5,929.15 L758.5,928.57 L759.5,928.00 L760.5,927.42 L761.5,926.84 L762.5,926.26 L763.5,925.69 L764.5,925.11 L765.5,924.53 L766.5,923.95 L767.5,923.38 L768.5,922.80 L769.5,922.22 L770.5,921.64 L771.5,921.06 L772.5,920.49 L773.5,919.91 L774.5,919.33 L775.5,918.75 L776.5,918.18 L777.5,917.60 L778.5,917.02 L779.5,916.44 L780.5,915.86 L781.5,915.29 L782.5,914.71 L783.5,914.13 L784.5,913.55 L785.5,912.97 L786.5,912.40 L787.5,911.82 L788.5,911.24 L789.5,910.66 L790.5,910.08 L791.5,909.51 L792.5,908.93 L793.5,908.35 L794.5,907.77 L795.5,907.19 L796.5,906.62 L797.5,906.04 L798.5,905.46 L799.5,904.88 L800.5,904.30 L801.5,903.72 L802.5,903.15 L803.5,902.57 L804.5,901.99 L805.0,901.70" stroke="#7E2F8E"/>
<path d="M97.5,1309.12 L98.5,1307.65 L99.5,1306.20 L100.5,1304.77 L101.5,1303.38 L102.5,1302.02 L103.5,1300.71 L104.5,1299.44 L105.5,1298.22 L106.5,1297.04 L107.5,1295.92 L108.5,1294.85 L109.5,1293.82 L110.5,1292.83 L111.5,1291.89 L112.5,1290.98 L113.5,1290.12 L114.5,1289.29 L115.5,1288.50 L116.5,1287.74 L117.5,1287.02 L118.5,1286.32 L119.5,1285.65 L120.5,1285.01 L121.5,1284.40 L122.5,1283.80 L123.5,1283.23 L124.5,1282.68 L125.5,1282.15 L126.5,1281.63 L127.5,1281.12 L128.5,1280.63 L129.5,1280.16 L130.5,1279.69 L131.5,1279.24 L132.5,1278.80 L133.5,1278.37 L134.5,1277.95 L135.5,1277.54 L136.5,1277.13 L137.5,1276.74 L138.5,1276.35 L139.5,1275.96 L140.5,1275.58 L141.5,1275.20 L142.5,1274.83 L143.5,1274.46 L144.5,1274.09 L145.5,1273.73 L146.5,1273.36 L147.5,1272.99 L148.5,1272.62 L149.5,1272.25 L150.5,1271.87 L151.5,1271.49 L152.5,1271.10 L153.5,1270.71 L154.5,1270.32 L155.5,1269.92 L156.5,1269.52 L157.5,1269.11 L158.5,1268.70 L159.5,1268.28 L160.5,1267.86 L161.5,1267.43 L162.5,1266.99 L163.5,1266.55 L164.5,1266.10 L165.5,1265.65 L166.5,1265.18 L167.5,1264.71 L168.5,1264.24 L169.5,1263.75 L170.5,1263.26 L171.5,1262.75 L172.5,1262.24 L173.5,1261.72 L174.5,1261.19 L175.5,1260.65 L176.5,1260.11 L177.5,1259.55 L178.5,1258.98 L179.5,1258.40 L180.5,1257.82 L181.5,1257.22 L182.5,1256.61 L183.5,1255.99 L184.5,1255.36 L185.5,1254.72 L186.5,1254.07 L187.5,1253.40 L188.5,1252.73 L189.5,1252.06 L190.5,1251.37 L191.5,1250.69 L192.5,1250.00 L193.5,1249.30 L194.5,1248.61 L195.5,1247.91 L196.5,1247.22 L197.5,1246.53 L198.5,1245.85 L199.5,1245.17 L200.5,1244.50 L201.5,1243.83 L202.5,1243.17 L203.5,1242.53 L204.5,1241.89 L205.5,1241.26 L206.5,1240.64 L207.5,1240.02 L208.5,1239.42 L209.5,1238.82 L210.5,1238.23 L211.5,1237.64 L212.5,1237.06 L213.5,1236.49 L214.5,1235.93 L215.5,1235.37 L216.5,1234.81 L217.5,1234.26 L218.5,1233.72 L219.5,1233.18 L220.5,1232.65 L221.5,1232.11 L222.5,1231.59 L223.5,1231.06 L224.5,1230.54 L225.5,1230.02 L226.5,1229.50 L227.5,1228.98 L228.5,1228.46 L229.5,1227.95 L230.5,1227.43 L231.5,1226.91 L232.5,1226.38 L233.5,1225.86 L234.5,1225.33 L235.5,1224.80 L236.5,1224.27 L237.5,1223.73 L238.5,1223.19 L239.5,1222.64 L240.5,1222.09 L241.5,1221.53 L242.5,1220.97 L243.5,1220.40 L244.5,1219.83 L245.5,1219.26 L246.5,1218.68 L247.5,1218.10 L248.5,1217.51 L249.5,1216.91 L250.5,1216.31 L251.5,1215.71 L252.5,1215.10 L253.5,1214.49 L254.5,1213.87 L255.5,1213.24 L256.5,1212.62 L257.5,1211.99 L258.5,1211.36 L259.5,1210.73 L260.5,1210.10 L261.5,1209.47 L262.5,1208.85 L263.5,1208.23 L264.5,1207.61 L265.5,1207.01 L266.5,1206.40 L267.5,1205.81 L268.5,1205.23 L269.5,1204.65 L270.5,1204.09 L271.5,1203.54 L272.5,1203.00 L273.5,1202.48 L274.5,1201.96 L275.5,1201.46 L276.5,1200.96 L277.5,1200.48 L278.5,1200.00 L279.5,1199.54 L280.5,1199.08 L281.5,1198.63 L282.5,1198.19 L283.5,1197.76 L284.5,1197.33 L285.5,1196.91 L286.5,1196.50 L287.5,1196.09 L288.5,1195.68 L289.5,1195.28 L290.5,1194.89 L291.5,1194.50 L292.5,1194.11 L293.5,1193.72 L294.5,1193.34 L295.5,1192.97 L296.5,1192.59 L297.5,1192.22 L298.5,1191.86 L299.5,1191.49 L300.5,1191.13 L301.5,1190.78 L302.5,1190.42 L303.5,1190.07 L304.5,1189.72 L305.5,1189.38 L306.5,1189.03 L307.5,1188.69 L308.5,1188.35 L309.5,1188.02 L310.5,1187.69 L311.5,1187.35 L312.5,1187.03 L313.5,1186.70 L314.5,1186.37 L315.5,1186.05 L316.5,1185.73 L317.5,1185.40 L318.5,1185.08 L319.5,1184.76 L320.5,1184.45 L321.5,1184.13 L322.5,1183.81 L323.5,1183.49 L324.5,1183.17 L325.5,1182.85 L326.5,1182.53 L327.5,1182.22 L328.5,1181.90 L329.5,1181.57 L330.5,1181.25 L331.5,1180.93 L332.5,1180.60 L333.5,1180.28 L334.5,1179.95 L335.5,1179.62 L336.5,1179.29 L337.5,1178.96 L338.5,1178.62 L339.5,1178.29 L340.5,1177.95 L341.5,1177.61 L342.5,1177.27 L343.5,1176.93 L344.5,1176.59 L345.5,1176.25 L346.5,1175.90 L347.5,1175.56 L348.5,1175.21 L349.5,1174.87 L350.5,1174.52 L351.5,1174.18 L352.5,1173.83 L353.5,1173.48 L354.5,1173.14 L355.5,1172.79 L356.5,1172.44 L357.5,1172.09 L358.5,1171.75 L359.5,1171.40 L360.5,1171.05 L361.5,1170.71 L362.5,1170.36 L363.5,1170.01 L364.5,1169.67 L365.5,1169.32 L366.5,1168.97 L367.5,1168.62 L368.5,1168.27 L369.5,1167.92 L370.5,1167.57 L371.5,1167.21 L372.5,1166.86 L373.5,1166.50 L374.5,1166.15 L375.5,1165.79 L376.5,1165.43 L377.5,1165.07 L378.5,1164.70 L379.5,1164.34 L380.5,1163.97 L381.5,1163.60 L382.5,1163.23 L383.5,1162.85 L384.5,1162.47 L385.5,1162.09 L386.5,1161.71 L387.5,1161.32 L388.5,1160.94 L389.5,1160.55 L390.5,1160.15 L391.5,1159.76 L392.5,1159.36 L393.5,1158.95 L394.5,1158.55 L395.5,1158.14 L396.5,1157.73 L397.5,1157.32 L398.5,1156.90 L399.5,1156.49 L400.5,1156.06 L401.5,1155.64 L402.5,1155.21 L403.5,1154.78 L404.5,1154.35 L405.5,1153.91 L406.5,1153.47 L407.5,1153.02 L408.5,1152.58 L409.5,1152.13 L410.5,1151.68 L411.5,1151.22 L412.5,1150.77 L413.5,1150.31 L414.5,1149.86 L415.5,1149.40 L416.5,1148.94 L417.5,1148.48 L418.5,1148.03 L419.5,1147.57 L420.5,1147.12 L421.5,1146.66 L422.5,1146.21 L423.5,1145.76 L424.5,1145.31 L425.5,1144.86 L426.5,1144.41 L427.5,1143.95 L428.5,1143.50 L429.5,1143.05 L430.5,1142.59 L431.5,1142.13 L432.5,1141.67 L433.5,1141.20 L434.5,1140.74 L435.5,1140.27 L436.5,1139.79 L437.5,1139.31 L438.5,1138.83 L439.5,1138.34 L440.5,1137.84 L441.5,1137.34 L442.5,1136.84 L443.5,1136.33 L444.5,1135.81 L445.5,1135.30 L446.5,1134.78 L447.5,1134.25 L448.5,1133.73 L449.5,1133.20 L450.5,1132.68 L451.5,1132.15 L452.5,1131.62 L453.5,1131.09 L454.5,1130.57 L455.5,1130.04 L456.5,1129.52 L457.5,1129.00 L458.5,1128.48 L459.5,1127.96 L460.5,1127.45 L461.5,1126.95 L462.5,1126.44 L463.5,1125.94 L464.5,1125.44 L465.5,1124.95 L466.5,1124.45 L467.5,1123.96 L468.5,1123.46 L469.5,1122.96 L470.5,1122.47 L471.5,1121.97 L472.5,1121.47 L473.5,1120.97 L474.5,1120.46 L475.5,1119.95 L476.5,1119.44 L477.5,1118.92 L478.5,1118.40 L479.5,1117.87 L480.5,1117.34 L481.5,1116.80 L482.5,1116.25 L483.5,1115.69 L484.5,1115.13 L485.5,1114.55 L486.5,1113.97 L487.5,1113.38 L488.5,1112.77 L489.5,1112.16 L490.5,1111.53 L491.5,1110.90 L492.5,1110.25 L493.5,1109.59 L494.5,1108.93 L495.5,1108.25 L496.5,1107.57 L497.5,1106.88 L498.5,1106.18 L499.5,1105.47 L500.5,1104.75 L501.5,1104.03 L502.5,1103.30 L503.5,1102.57 L504.5,1101.82 L505.5,1101.08 L506.5,1100.32 L507.5,1099.57 L508.5,1098.80 L509.5,1098.04 L510.5,1097.27 L511.5,1096.49 L512.5,1095.72 L513.5,1094.94 L514.5,1094.16 L515.5,1093.37 L516.5,1092.58 L517.5,1091.78 L518.5,1090.98 L519.5,1090.18 L520.5,1089.37 L521.5,1088.55 L522.5,1087.73 L523.5,1086.90 L524.5,1086.07 L525.5,1085.23 L526.5,1084.38 L527.5,1083.52 L528.5,1082.66 L529.5,1081.79 L530.5,1080.91 L531.5,1080.02 L532.5,1079.12 L533.5,1078.22 L534.5,1077.30 L535.5,1076.37 L536.5,1075.43 L537.5,1074.49 L538.5,1073.53 L539.5,1072.57 L540.5,1071.60 L541.5,1070.62 L542.5,1069.63 L543.5,1068.64 L544.5,1067.64 L545.5,1066.64 L546.5,1065.63 L547.5,1064.61 L548.5,1063.59 L549.5,1062.57 L550.5,1061.55 L551.5,1060.52 L552.5,1059.50 L553.5,1058.47 L554.5,1057.45 L555.5,1056.42 L556.5,1055.41 L557.5,1054.39 L558.5,1053.39 L559.5,1052.40 L560.5,1051.43 L561.5,1050.47 L562.5,1049.53 L563.5,1048.61 L564.5,1047.71 L565.5,1046.83 L566.5,1045.98 L567.5,1045.15 L568.5,1044.35 L569.5,1043.57 L570.5,1042.81 L571.5,1042.08 L572.5,1041.38 L573.5,1040.70 L574.5,1040.04 L575.5,1039.42 L576.5,1038.81 L577.5,1038.24 L578.5,1037.69 L579.5,1037.16 L580.5,1036.65 L581.5,1036.16 L582.5,1035.68 L583.5,1035.22 L584.5,1034.77 L585.5,1034.33 L586.5,1033.90 L587.5,1033.47 L588.5,1033.05 L589.5,1032.64 L590.5,1032.22 L591.5,1031.80 L592.5,1031.39 L593.5,1030.97 L594.5,1030.56 L595.5,1030.15 L596.5,1029.74 L597.5,1029.34 L598.5,1028.94 L599.5,1028.54 L600.5,1028.15 L601.5,1027.76 L602.5,1027.38 L603.5,1027.00 L604.5,1026.62 L605.5,1026.25 L606.5,1025.87 L607.5,1025.50 L608.5,1025.13 L609.5,1024.75 L610.5,1024.37 L611.5,1024.00 L612.5,1023.62 L613.5,1023.24 L614.5,1022.86 L615.5,1022.48 L616.5,1022.10 L617.5,1021.72 L618.5,1021.34 L619.5,1020.96 L620.5,1020.59 L621.5,1020.21 L622.5,1019.84 L623.5,1019.47 L624.5,1019.11 L625.5,1018.74 L626.5,1018.38 L627.5,1018.02 L628.5,1017.66 L629.5,1017.31 L630.5,1016.95 L631.5,1016.60 L632.5,1016.26 L633.5,1015.91 L634.5,1015.56 L635.5,1015.22 L636.5,1014.88 L637.5,1014.54 L638.5,1014.20 L639.5,1013.86 L640.5,1013.53 L641.5,1013.19 L642.5,1012.86 L643.5,1012.53 L644.5,1012.20 L645.5,1011.86 L646.5,1011.53 L647.5,1011.20 L648.5,1010.87 L649.5,1010.54 L650.5,1010.21 L651.5,1009.88 L652.5,1009.56 L653.5,1009.23 L654.5,1008.90 L655.5,1008.57 L656.5,1008.24 L657.5,1007.90 L658.5,1007.57 L659.5,1007.24 L660.5,1006.91 L661.5,1006.58 L662.5,1006.24 L663.5,1005.91 L664.5,1005.57 L665.5,1005.23 L666.5,1004.90 L667.5,1004.56 L668.5,1004.22 L669.5,1003.88 L670.5,1003.53 L671.5,1003.19 L672.5,1002.84 L673.5,1002.49 L674.5,1002.15 L675.5,1001.80 L676.5,1001.44 L677.5,1001.09 L678.5,1000.73 L679.5,1000.38 L680.5,1000.02 L681.5,999.65 L682.5,999.29 L683.5,998.92 L684.5,998.56 L685.5,998.19 L686.5,997.81 L687.5,997.44 L688.5,997.06 L689.5,996.68 L690.5,996.30 L691.5,995.91 L692.5,995.53 L693.5,995.14 L694.5,994.74 L695.5,994.35 L696.5,993.95 L697.5,993.55 L698.5,993.15 L699.5,992.75 L700.5,992.34 L701.5,991.93 L702.5,991.52 L703.5,991.11 L704.5,990.69 L705.5,990.27 L706.5,989.85 L707.5,989.43 L708.5,989.00 L709.5,988.58 L710.5,988.15 L711.5,987.72 L712.5,987.28 L713.5,986.85 L714.5,986.41 L715.5,985.97 L716.5,985.52 L717.5,985.08 L718.5,984.63 L719.5,984.18 L720.5,983.73 L721.5,983.28 L722.5,982.82 L723.5,982.37 L724.5,981.91 L725.5,981.45 L726.5,980.98 L727.5,980.52 L728.5,980.05 L729.5,979.58 L730.5,979.11 L731.5,978.64 L732.5,978.16 L733.5,977.69 L734.5,977.21 L735.5,976.73 L736.5,976.25 L737.5,975.76 L738.5,975.28 L739.5,974.79 L740.5,974.30 L741.5,973.81 L742.5,973.32 L743.5,972.83 L744.5,972.33 L745.5,971.84 L746.5,971.34 L747.5,970.84 L748.5,970.34 L749.5,969.84 L750.5,969.34 L751.5,968.84 L752.5,968.33 L753.5,967.83 L754.5,967.33 L755.5,966.82 L756.5,966.31 L757.5,965.81 L758.5,965.30 L759.5,964.79 L760.5,964.28 L761.5,963.77 L762.5,963.26 L763.5,962.75 L764.5,962.24 L765.5,961.73 L766.5,961.22 L767.5,960.71 L768.5,960.19 L769.5,959.68 L770.5,959.16 L771.5,958.65 L772.5,958.14 L773.5,957.62 L774.5,957.10 L775.5,956.59 L776.5,956.07 L777.5,955.55 L778.5,955.04 L779.5,954.52 L780.5,954.00 L781.5,953.48 L782.5,952.96 L783.5,952.44 L784.5,951.92 L785.5,951.40 L786.5,950.88 L787.5,950.36 L788.5,949.84 L789.5,949.32 L790.5,948.80 L791.5,948.28 L792.5,947.76 L793.5,947.23 L794.5,946.71 L795.5,946.19 L796.5,945.67 L797.5,945.14 L798.5,944.62 L799.5,944.10 L800.5,943.58 L801.5,943.05 L802.5,942.53 L803.5,942.01 L804.5,941.48 L805.0,941.22" stroke="#77AC30"/>
</g>
<rect x="97.5" y="743.7" width="777.0" height="565.5" fill="none" stroke="#262626" stroke-width="1.3"/>
<path d="M252.90,1309.2V1301.4M252.90,743.7V751.5M408.30,1309.2V1301.4M408.30,743.7V751.5M563.70,1309.2V1301.4M563.70,743.7V751.5M719.10,1309.2V1301.4M719.10,743.7V751.5M97.5,1196.10H105.3M874.5,1196.10H866.7M97.5,1083.00H105.3M874.5,1083.00H866.7M97.5,969.90H105.3M874.5,969.90H866.7M97.5,856.80H105.3M874.5,856.80H866.7" stroke="#262626" stroke-width="1.3" fill="none"/>
<g font-family="Liberation Serif, serif" font-size="30" fill="#000">
<text x="97.50" y="1344.4" text-anchor="middle">0</text>
<text x="252.90" y="1344.4" text-anchor="middle">1</text>
<text x="408.30" y="1344.4" text-anchor="middle">2</text>
<text x="563.70" y="1344.4" text-anchor="middle">3</text>
<text x="719.10" y="1344.4" text-anchor="middle">4</text>
<text x="874.50" y="1344.4" text-anchor="middle">5</text>
<text x="87.6" y="1316.8" text-anchor="end">0</text>
<text x="87.6" y="1203.7" text-anchor="end">0.2</text>
<text x="87.6" y="1090.6" text-anchor="end">0.4</text>
<text x="87.6" y="977.5" text-anchor="end">0.6</text>
<text x="87.6" y="864.4" text-anchor="end">0.8</text>
<text x="87.6" y="751.3" text-anchor="end">1</text>
</g>
<text transform="translate(33,1171.60) rotate(-90)" font-family="Liberation Serif, serif" font-size="34"><tspan x="-1" textLength="141.8" lengthAdjust="spacingAndGlyphs">Lithiation</tspan> <tspan x="151.6" textLength="70.5" lengthAdjust="spacingAndGlyphs">state</tspan> <tspan x="233.2" font-style="italic" textLength="17" lengthAdjust="spacingAndGlyphs">x</tspan> <tspan x="263.8" textLength="25.5" lengthAdjust="spacingAndGlyphs">[-]</tspan></text>
<text y="1383.6" font-family="Liberation Serif, serif" font-size="34"><tspan x="437.6" textLength="23.5" lengthAdjust="spacingAndGlyphs">Q</tspan> <tspan x="474.8" textLength="58.5" lengthAdjust="spacingAndGlyphs">[Ah]</tspan></text>
<rect x="465.6" y="725.7" width="62.8" height="48.6" fill="#fff" stroke="#262626" stroke-width="1.4"/>
<text font-family="Liberation Serif, serif" font-size="41"><tspan x="474.3" y="763">1</tspan><tspan x="493.6" y="763">C</tspan></text>
<rect x="737.4" y="1097.3" width="117.6" height="168.9" fill="#fff" stroke="#4a4a4a" stroke-width="1.1"/>
<path d="M743.2,1116.30H799.2" stroke="#0072BD" stroke-width="2.6"/>
<text x="804.4" y="1122.80" font-family="Liberation Serif, serif" font-size="27" font-style="italic" textLength="42" lengthAdjust="spacingAndGlyphs">R<tspan font-size="19" dy="4.5">p</tspan><tspan font-size="19" font-style="normal">,1</tspan></text>
<path d="M743.2,1149.15H799.2" stroke="#D95319" stroke-width="2.6"/>
<text x="804.4" y="1155.65" font-family="Liberation Serif, serif" font-size="27" font-style="italic" textLength="42" lengthAdjust="spacingAndGlyphs">R<tspan font-size="19" dy="4.5">p</tspan><tspan font-size="19" font-style="normal">,2</tspan></text>
<path d="M743.2,1182.00H799.2" stroke="#EDB120" stroke-width="2.6"/>
<text x="804.4" y="1188.50" font-family="Liberation Serif, serif" font-size="27" font-style="italic" textLength="42" lengthAdjust="spacingAndGlyphs">R<tspan font-size="19" dy="4.5">p</tspan><tspan font-size="19" font-style="normal">,3</tspan></text>
<path d="M743.2,1214.85H799.2" stroke="#7E2F8E" stroke-width="2.6"/>
<text x="804.4" y="1221.35" font-family="Liberation Serif, serif" font-size="27" font-style="italic" textLength="42" lengthAdjust="spacingAndGlyphs">R<tspan font-size="19" dy="4.5">p</tspan><tspan font-size="19" font-style="normal">,4</tspan></text>
<path d="M743.2,1247.70H799.2" stroke="#77AC30" stroke-width="2.6"/>
<text x="804.4" y="1254.20" font-family="Liberation Serif, serif" font-size="27" font-style="italic" textLength="42" lengthAdjust="spacingAndGlyphs">R<tspan font-size="19" dy="4.5">p</tspan><tspan font-size="19" font-style="normal">,5</tspan></text>
</g>
<g font-family="Liberation Serif, serif" fill="#000">
<text font-family="Liberation Serif, serif"><tspan x="0.44" y="31.7" font-size="46.5">(</tspan><tspan x="14.2" y="31" font-size="40.2" textLength="22.2" lengthAdjust="spacingAndGlyphs">a</tspan><tspan x="33.6" y="31.7" font-size="46.5">)</tspan></text>
<text font-family="Liberation Serif, serif"><tspan x="0.54" y="701.3" font-size="46.5">(</tspan><tspan x="15.1" y="700.5" font-size="42.2" textLength="23.4" lengthAdjust="spacingAndGlyphs">b</tspan><tspan x="36.6" y="701.3" font-size="46.5">)</tspan></text>
<text font-family="Liberation Serif, serif"><tspan x="965.4" y="248.6" font-size="51.6">(</tspan><tspan x="980.8" y="248.1" font-size="44.5" textLength="21.5" lengthAdjust="spacingAndGlyphs">c</tspan><tspan x="1000.5" y="248.6" font-size="51.6">)</tspan></text>
</g>
<rect x="969.2" y="263.1" width="1100.3" height="776.7" rx="124" ry="130" fill="none" stroke="#000" stroke-width="2.3"/>
<ellipse cx="1238.3" cy="722.6" rx="223.8" ry="229.8" fill="url(#pg)" stroke="#000" stroke-width="1.5"/>
<rect x="1148.3" y="804.8" width="189.6" height="54.5" fill="#fff" stroke="#000" stroke-width="1.3"/>
<text x="1243.1" y="843.1" text-anchor="middle" font-family="Liberation Serif, serif" font-size="30">Particle</text>
<g filter="url(#sh)">
<path d="M1239.3,771 V440" stroke="#000" stroke-width="7.4" fill="none"/>
<path d="M1239.5,419.1 L1250.9,441.9 L1228.1,441.9 Z" fill="#000"/>
<path d="M1201.5,723 H1492" stroke="#000" stroke-width="7" fill="none"/>
<path d="M1513.5,723 L1491.4,711.9 L1491.4,734.1 Z" fill="#000"/>
</g>
<path d="M1459.2,493.8 L1461.5,711" stroke="#000" stroke-width="1.3" stroke-dasharray="2 1.9" fill="none"/>
<path d="M1459.6,576 L1636.3,451.1" stroke="#000" stroke-width="1.6" fill="none"/>
<path d="M1351.9,643.5 L1639.6,738.8" stroke="#000" stroke-width="1.6" fill="none"/>
<path d="M1236.20,650.93 L1237.33,650.82 L1238.45,650.72 L1239.58,650.61 L1240.71,650.51 L1241.84,650.41 L1242.96,650.31 L1244.09,650.21 L1245.22,650.11 L1246.34,650.01 L1247.47,649.91 L1248.60,649.81 L1249.73,649.71 L1250.85,649.61 L1251.98,649.52 L1253.11,649.42 L1254.23,649.32 L1255.36,649.22 L1256.49,649.13 L1257.62,649.03 L1258.74,648.93 L1259.87,648.83 L1261.00,648.74 L1262.12,648.64 L1263.25,648.54 L1264.38,648.44 L1265.51,648.34 L1266.63,648.24 L1267.76,648.15 L1268.89,648.05 L1270.01,647.95 L1271.14,647.85 L1272.27,647.74 L1273.40,647.64 L1274.52,647.54 L1275.65,647.44 L1276.78,647.33 L1277.90,647.23 L1279.03,647.12 L1280.16,647.02 L1281.29,646.91 L1282.41,646.80 L1283.54,646.69 L1284.67,646.58 L1285.79,646.47 L1286.92,646.36 L1288.05,646.25 L1289.18,646.13 L1290.30,646.02 L1291.43,645.90 L1292.56,645.78 L1293.68,645.66 L1294.81,645.54 L1295.94,645.42 L1297.07,645.30 L1298.19,645.17 L1299.32,645.05 L1300.45,644.92 L1301.57,644.79 L1302.70,644.66 L1303.83,644.52 L1304.96,644.39 L1306.08,644.25 L1307.21,644.11 L1308.34,643.97 L1309.46,643.83 L1310.59,643.68 L1311.72,643.54 L1312.85,643.39 L1313.97,643.24 L1315.10,643.08 L1316.23,642.93 L1317.35,642.77 L1318.48,642.61 L1319.61,642.45 L1320.74,642.28 L1321.86,642.12 L1322.99,641.95 L1324.12,641.77 L1325.24,641.60 L1326.37,641.42 L1327.50,641.24 L1328.63,641.06 L1329.75,640.87 L1330.88,640.69 L1332.01,640.50 L1333.13,640.30 L1334.26,640.11 L1335.39,639.91 L1336.52,639.70 L1337.64,639.50 L1338.77,639.29 L1339.90,639.08 L1341.02,638.86 L1342.15,638.65 L1343.28,638.42 L1344.41,638.20 L1345.53,637.97 L1346.66,637.74 L1347.79,637.51 L1348.91,637.27 L1350.04,637.03 L1351.17,636.78 L1352.29,636.53 L1353.42,636.28 L1354.55,636.02 L1355.68,635.77 L1356.80,635.50 L1357.93,635.23 L1359.06,634.96 L1360.18,634.69 L1361.31,634.41 L1362.44,634.13 L1363.57,633.84 L1364.69,633.55 L1365.82,633.25 L1366.95,632.96 L1368.07,632.65 L1369.20,632.34 L1370.33,632.03 L1371.46,631.72 L1372.58,631.40 L1373.71,631.07 L1374.84,630.74 L1375.96,630.41 L1377.09,630.07 L1378.22,629.73 L1379.35,629.38 L1380.47,629.03 L1381.60,628.67 L1382.73,628.32 L1383.85,627.95 L1384.98,627.58 L1386.11,627.21 L1387.24,626.84 L1388.36,626.46 L1389.49,626.08 L1390.62,625.69 L1391.74,625.30 L1392.87,624.90 L1394.00,624.51 L1395.13,624.11 L1396.25,623.70 L1397.38,623.30 L1398.51,622.88 L1399.63,622.47 L1400.76,622.05 L1401.89,621.63 L1403.02,621.21 L1404.14,620.78 L1405.27,620.36 L1406.40,619.92 L1407.52,619.49 L1408.65,619.05 L1409.78,618.61 L1410.91,618.17 L1412.03,617.73 L1413.16,617.28 L1414.29,616.83 L1415.41,616.38 L1416.54,615.92 L1417.67,615.47 L1418.80,615.01 L1419.92,614.55 L1421.05,614.08 L1422.18,613.62 L1423.30,613.15 L1424.43,612.69 L1425.56,612.22 L1426.69,611.74 L1427.81,611.27 L1428.94,610.80 L1430.07,610.32 L1431.19,609.84 L1432.32,609.36 L1433.45,608.88 L1434.58,608.40 L1435.70,607.92 L1436.83,607.43 L1437.96,606.95 L1439.08,606.46 L1440.21,605.97 L1441.34,605.49 L1442.47,605.00 L1443.59,604.51 L1444.72,604.02 L1445.85,603.53 L1446.97,603.03 L1448.10,602.54 L1449.23,602.05 L1450.36,601.56 L1451.48,601.06 L1452.61,600.57 L1453.74,600.08 L1454.86,599.58 L1455.99,599.09 L1457.12,598.60 L1458.25,598.10 L1459.37,597.61 L1460.50,597.12" stroke="#0066CC" stroke-width="4.9" fill="none"/>
<path d="M1234.20,683.25 L1235.33,683.00 L1236.45,682.76 L1237.58,682.51 L1238.71,682.27 L1239.84,682.03 L1240.96,681.78 L1242.09,681.54 L1243.22,681.30 L1244.34,681.06 L1245.47,680.81 L1246.60,680.57 L1247.73,680.33 L1248.85,680.08 L1249.98,679.84 L1251.11,679.59 L1252.23,679.34 L1253.36,679.10 L1254.49,678.85 L1255.62,678.60 L1256.74,678.35 L1257.87,678.10 L1259.00,677.84 L1260.12,677.59 L1261.25,677.33 L1262.38,677.07 L1263.51,676.81 L1264.63,676.55 L1265.76,676.29 L1266.89,676.02 L1268.01,675.75 L1269.14,675.48 L1270.27,675.21 L1271.40,674.93 L1272.52,674.65 L1273.65,674.37 L1274.78,674.08 L1275.90,673.80 L1277.03,673.51 L1278.16,673.21 L1279.29,672.92 L1280.41,672.62 L1281.54,672.31 L1282.67,672.00 L1283.79,671.69 L1284.92,671.38 L1286.05,671.06 L1287.18,670.74 L1288.30,670.41 L1289.43,670.08 L1290.56,669.74 L1291.68,669.40 L1292.81,669.06 L1293.94,668.71 L1295.07,668.35 L1296.19,668.00 L1297.32,667.63 L1298.45,667.26 L1299.57,666.89 L1300.70,666.51 L1301.83,666.13 L1302.96,665.74 L1304.08,665.34 L1305.21,664.94 L1306.34,664.53 L1307.46,664.12 L1308.59,663.70 L1309.72,663.28 L1310.85,662.85 L1311.97,662.41 L1313.10,661.96 L1314.23,661.51 L1315.35,661.06 L1316.48,660.59 L1317.61,660.12 L1318.74,659.65 L1319.86,659.16 L1320.99,658.67 L1322.12,658.17 L1323.24,657.67 L1324.37,657.16 L1325.50,656.63 L1326.63,656.11 L1327.75,655.57 L1328.88,655.03 L1330.01,654.48 L1331.13,653.92 L1332.26,653.35 L1333.39,652.77 L1334.52,652.19 L1335.64,651.59 L1336.77,650.99 L1337.90,650.38 L1339.02,649.76 L1340.15,649.14 L1341.28,648.50 L1342.41,647.86 L1343.53,647.20 L1344.66,646.54 L1345.79,645.86 L1346.91,645.18 L1348.04,644.49 L1349.17,643.79 L1350.29,643.07 L1351.42,642.35 L1352.55,641.62 L1353.68,640.88 L1354.80,640.13 L1355.93,639.36 L1357.06,638.59 L1358.18,637.81 L1359.31,637.01 L1360.44,636.21 L1361.57,635.39 L1362.69,634.57 L1363.82,633.73 L1364.95,632.88 L1366.07,632.02 L1367.20,631.15 L1368.33,630.27 L1369.46,629.38 L1370.58,628.47 L1371.71,627.55 L1372.84,626.62 L1373.96,625.68 L1375.09,624.73 L1376.22,623.77 L1377.35,622.79 L1378.47,621.80 L1379.60,620.80 L1380.73,619.79 L1381.85,618.77 L1382.98,617.74 L1384.11,616.70 L1385.24,615.65 L1386.36,614.59 L1387.49,613.53 L1388.62,612.45 L1389.74,611.37 L1390.87,610.28 L1392.00,609.18 L1393.13,608.08 L1394.25,606.97 L1395.38,605.85 L1396.51,604.73 L1397.63,603.61 L1398.76,602.48 L1399.89,601.34 L1401.02,600.20 L1402.14,599.06 L1403.27,597.91 L1404.40,596.76 L1405.52,595.61 L1406.65,594.45 L1407.78,593.29 L1408.91,592.14 L1410.03,590.98 L1411.16,589.82 L1412.29,588.66 L1413.41,587.49 L1414.54,586.33 L1415.67,585.17 L1416.80,584.01 L1417.92,582.86 L1419.05,581.70 L1420.18,580.55 L1421.30,579.40 L1422.43,578.25 L1423.56,577.10 L1424.69,575.96 L1425.81,574.82 L1426.94,573.69 L1428.07,572.56 L1429.19,571.44 L1430.32,570.32 L1431.45,569.21 L1432.58,568.10 L1433.70,567.00 L1434.83,565.91 L1435.96,564.82 L1437.08,563.74 L1438.21,562.67 L1439.34,561.61 L1440.47,560.56 L1441.59,559.51 L1442.72,558.48 L1443.85,557.45 L1444.97,556.44 L1446.10,555.44 L1447.23,554.44 L1448.36,553.46 L1449.48,552.49 L1450.61,551.53 L1451.74,550.59 L1452.86,549.65 L1453.99,548.73 L1455.12,547.82 L1456.25,546.93 L1457.37,546.05 L1458.50,545.19" stroke="#FF0000" stroke-width="5.2" fill="none"/>
<path d="M1483.6,633.3 V516" stroke="#000" stroke-width="4" fill="none"/>
<path d="M1483.6,502.1 L1491.2,517.6 L1476,517.6 Z" fill="#000"/>
<g font-family="Liberation Serif, serif" fill="#000" text-anchor="middle">
<rect x="1349.4" y="423.2" width="232.9" height="50.8" fill="#fff" stroke="#000" stroke-width="1.4"/>
<text x="1466.2" y="459.2" font-size="27.5">Increase C-rate</text>
<rect x="1636.3" y="408" width="345.5" height="85.3" fill="#fff" stroke="#000" stroke-width="1.4"/>
<text x="1809.2" y="444.2" font-size="27.5">The voltage is determined</text>
<text x="1809.2" y="477.4" font-size="27.5">by the surface concertation</text>
<rect x="1639.6" y="657.1" width="308.9" height="163.7" fill="#fff" stroke="#000" stroke-width="1.4"/>
<text x="1794.3" y="695.5" font-size="30">The expansion</text>
<text x="1794.3" y="731.5" font-size="30">corresponds to the</text>
<text x="1794.3" y="767.5" font-size="30">average concentration</text>
<text x="1794.3" y="803.5" font-size="30">in the particle</text>
</g>
<g font-family="Liberation Serif, serif" font-style="italic" fill="#000" font-size="34">
<text x="1103.5" y="442">c</text>
<text x="1121.5" y="441" font-style="normal" font-size="36">(</text>
<text x="1134.5" y="415.2" textLength="58.5" lengthAdjust="spacingAndGlyphs">mol</text>
<path d="M1134.8,431.7 H1195.2" stroke="#000" stroke-width="2.6"/>
<text x="1141" y="465" textLength="30" lengthAdjust="spacingAndGlyphs">m</text>
<text x="1172.5" y="454.5" font-style="normal" font-size="23">3</text>
<text x="1195" y="441" font-style="normal" font-size="36">)</text>
<text x="1493" y="767">r</text>
</g>
</svg></body></html>
